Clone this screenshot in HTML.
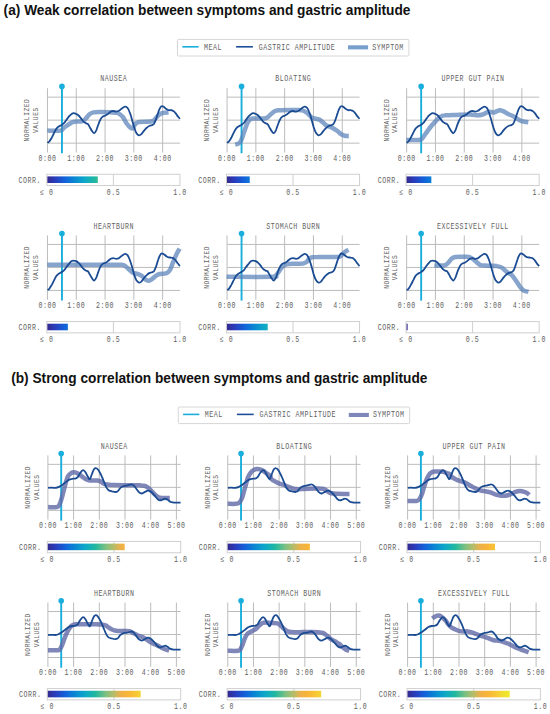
<!DOCTYPE html><html><head><meta charset="utf-8"><style>html,body{margin:0;padding:0;background:#fff;}svg{display:block;}.m{font-family:"Liberation Mono", monospace;font-size:7.5px;fill:#626262;letter-spacing:0.61px;}.yl{font-size:7.1px;}.t{font-family:"Liberation Sans", sans-serif;font-size:13.7px;font-weight:bold;fill:#111;}</style></head><body>
<svg width="550" height="714" viewBox="0 0 550 714">
<text transform="translate(3.6,15.1) scale(1,1.06)" class="t">(a) Weak correlation between symptoms and gastric amplitude</text>
<text transform="translate(11.2,382.6) scale(1,1.06)" class="t">(b) Strong correlation between symptoms and gastric amplitude</text>
<rect x="177.5" y="39.4" width="231.4" height="16.6" fill="#fff" stroke="#d6d6d6" stroke-width="1" rx="1"/>
<path d="M182.3,46.8H198.6" stroke="#19aedb" stroke-width="1.6"/>
<text transform="translate(204.00,49.70) scale(0.88,1.10)" class="m">MEAL</text>
<path d="M236.1,46.8H252.9" stroke="#1c4f97" stroke-width="1.6"/>
<text transform="translate(258.80,49.70) scale(0.88,1.10)" class="m">GASTRIC AMPLITUDE</text>
<rect x="348.0" y="45.3" width="20.1" height="4.1" fill="#78a0cc"/>
<text transform="translate(372.20,49.70) scale(0.88,1.10)" class="m">SYMPTOM</text>
<rect x="178.3" y="407.0" width="231.4" height="16.6" fill="#fff" stroke="#d6d6d6" stroke-width="1" rx="1"/>
<path d="M183.1,414.4H199.4" stroke="#19aedb" stroke-width="1.6"/>
<text transform="translate(204.80,417.30) scale(0.88,1.10)" class="m">MEAL</text>
<path d="M236.9,414.4H253.7" stroke="#1c4f97" stroke-width="1.6"/>
<text transform="translate(259.60,417.30) scale(0.88,1.10)" class="m">GASTRIC AMPLITUDE</text>
<rect x="348.8" y="412.9" width="20.1" height="4.1" fill="#7f87b8"/>
<text transform="translate(373.00,417.30) scale(0.88,1.10)" class="m">SYMPTOM</text>
<text transform="translate(113.70,81.25) scale(0.88,1.10)" text-anchor="middle" class="m">NAUSEA</text>
<text transform="translate(29.45,120.15) rotate(-90) scale(0.88,1.10)" text-anchor="middle" class="m yl">NORMALIZED</text>
<text transform="translate(38.05,120.15) rotate(-90) scale(0.88,1.10)" text-anchor="middle" class="m yl">VALUES</text>
<path d="M47.45,88.2V152.5M76.25,88.2V152.5M105.05,88.2V152.5M133.85,88.2V152.5M162.65,88.2V152.5M47.45,97.15H179.95M47.45,120.15H179.95M47.45,143.15H179.95" stroke="#bcbcbc" stroke-width="1" fill="none"/>
<text transform="translate(47.45,160.85) scale(0.88,1.10)" text-anchor="middle" class="m">0:00</text>
<text transform="translate(76.25,160.85) scale(0.88,1.10)" text-anchor="middle" class="m">1:00</text>
<text transform="translate(105.05,160.85) scale(0.88,1.10)" text-anchor="middle" class="m">2:00</text>
<text transform="translate(133.85,160.85) scale(0.88,1.10)" text-anchor="middle" class="m">3:00</text>
<text transform="translate(162.65,160.85) scale(0.88,1.10)" text-anchor="middle" class="m">4:00</text>
<path d="M61.95,86.6V153.3" stroke="#19aedb" stroke-width="1.9"/>
<circle cx="61.95" cy="86.4" r="2.8" fill="#19aedb"/>
<path d="M47.3,130.6 C49.5,130.6 57.5,131.1 60.3,130.6 C63.1,130.1 62.4,128.8 64.1,127.6 C65.8,126.4 68.8,124.2 70.5,123.2 C72.2,122.2 72.4,122.0 74.3,121.7 C76.2,121.4 80.0,121.8 81.9,121.3 C83.8,120.8 84.4,119.9 85.7,118.7 C87.0,117.5 88.2,115.3 89.5,114.3 C90.8,113.2 91.5,112.8 93.4,112.4 C95.3,112.0 98.2,112.1 101.0,112.1 C103.8,112.1 107.2,112.1 110.0,112.3 C112.8,112.5 115.5,112.2 117.6,113.0 C119.7,113.8 121.2,115.1 122.7,116.8 C124.2,118.5 125.2,121.4 126.5,123.2 C127.8,125.0 129.3,126.8 130.4,127.6 C131.5,128.4 132.1,128.9 132.9,128.3 C133.8,127.7 134.4,124.9 135.5,123.8 C136.6,122.7 136.6,122.3 139.3,121.9 C142.1,121.5 149.2,121.9 152.0,121.3 C154.8,120.7 154.3,119.4 155.8,118.1 C157.3,116.8 158.8,114.5 160.9,113.6 C163.0,112.6 167.2,112.6 168.5,112.4" stroke="#547eb8" stroke-opacity="0.70" stroke-width="4.5" fill="none" stroke-linecap="butt" stroke-linejoin="round"/>
<path d="M47.5,142.9 C47.8,142.6 48.8,142.2 49.5,141.2 C50.2,140.3 51.1,138.7 52.0,137.2 C52.8,135.7 53.7,133.7 54.4,132.2 C55.2,130.8 55.8,129.5 56.5,128.6 C57.1,127.6 57.6,127.3 58.5,126.7 C59.3,126.0 60.8,125.5 61.8,124.9 C62.7,124.2 63.4,123.7 64.2,122.9 C65.1,122.0 65.8,120.7 66.7,119.6 C67.5,118.5 68.3,117.2 69.2,116.2 C70.0,115.3 70.8,114.4 71.6,113.9 C72.3,113.4 72.9,113.2 73.7,113.2 C74.4,113.2 75.2,113.5 76.1,113.9 C76.9,114.2 77.7,114.7 78.6,115.5 C79.4,116.2 80.1,117.3 81.0,118.4 C81.8,119.4 82.6,120.7 83.5,121.6 C84.3,122.4 85.2,122.8 86.0,123.2 C86.7,123.7 87.3,123.4 88.0,124.1 C88.6,124.7 89.2,126.2 89.9,127.4 C90.6,128.5 91.2,130.0 92.0,130.9 C92.7,131.9 93.5,133.4 94.2,133.2 C95.0,133.1 95.8,131.3 96.5,129.8 C97.2,128.2 97.8,125.8 98.5,124.1 C99.1,122.3 99.9,120.4 100.6,119.2 C101.2,117.9 101.7,117.3 102.6,116.7 C103.4,116.0 104.6,115.9 105.5,115.5 C106.3,115.0 107.0,114.5 107.9,113.9 C108.8,113.2 109.9,112.0 110.8,111.6 C111.6,111.1 112.3,111.0 113.2,111.0 C114.2,111.0 115.5,111.6 116.5,111.6 C117.4,111.5 118.0,111.3 119.0,110.8 C119.9,110.2 120.8,109.1 121.9,108.5 C122.9,107.8 124.1,106.8 125.0,106.7 C126.0,106.6 126.8,107.0 127.5,107.9 C128.3,108.7 128.9,110.3 129.5,111.8 C130.1,113.2 130.6,114.9 131.2,116.7 C131.7,118.4 132.2,120.4 132.8,122.4 C133.3,124.3 133.8,126.4 134.4,128.2 C135.0,129.9 135.7,131.9 136.4,133.1 C137.2,134.2 138.1,135.2 138.9,135.4 C139.7,135.6 140.5,135.0 141.4,134.2 C142.2,133.5 143.0,132.0 143.9,130.9 C144.7,129.9 145.7,128.6 146.7,127.8 C147.6,126.9 148.7,126.1 149.6,125.7 C150.4,125.2 151.2,125.4 152.0,125.1 C152.8,124.7 153.4,124.6 154.1,123.7 C154.7,122.7 155.4,121.0 156.1,119.2 C156.7,117.3 157.5,114.5 158.2,112.6 C158.8,110.6 159.5,108.7 160.2,107.7 C160.8,106.6 161.3,106.1 161.9,106.1 C162.6,106.0 163.4,106.7 164.2,107.2 C164.9,107.7 165.6,108.6 166.4,109.1 C167.1,109.6 167.7,110.0 168.6,110.2 C169.4,110.4 170.4,110.1 171.2,110.2 C172.1,110.4 172.7,110.5 173.4,111.0 C174.2,111.4 174.9,112.2 175.6,113.2 C176.4,114.1 177.1,115.4 177.9,116.4 C178.6,117.3 179.6,118.4 179.9,118.9" stroke="#1b4c93" stroke-width="1.8" fill="none" stroke-linejoin="round"/>
<text transform="translate(41.05,182.75) scale(0.88,1.10)" text-anchor="end" class="m">CORR.</text>
<rect x="46.85" y="174.25" width="133.10" height="11.30" fill="#fff" stroke="#cfcfcf" stroke-width="1"/>
<path d="M113.40,174.25V185.55" stroke="#cfcfcf" stroke-width="1"/>
<linearGradient id="ga00" gradientUnits="userSpaceOnUse" x1="46.85" x2="179.95" y1="0" y2="0"><stop offset="0.000" stop-color="#35288c"/><stop offset="0.060" stop-color="#2a3cbc"/><stop offset="0.135" stop-color="#1262da"/><stop offset="0.210" stop-color="#0a88d2"/><stop offset="0.285" stop-color="#0ea8c8"/><stop offset="0.360" stop-color="#20b8a0"/><stop offset="0.440" stop-color="#80c080"/><stop offset="0.500" stop-color="#b8bc68"/><stop offset="0.550" stop-color="#eeb048"/><stop offset="0.600" stop-color="#f8b438"/><stop offset="0.670" stop-color="#f8c836"/><stop offset="0.725" stop-color="#f0e030"/><stop offset="0.780" stop-color="#f0ea28"/><stop offset="1.000" stop-color="#f5f520"/></linearGradient>
<rect x="47.35" y="176.40" width="50.48" height="6.60" fill="url(#ga00)"/>
<text transform="translate(46.85,194.65) scale(0.88,1.10)" text-anchor="middle" class="m">≤ 0</text>
<text transform="translate(113.40,194.65) scale(0.88,1.10)" text-anchor="middle" class="m">0.5</text>
<text transform="translate(179.95,194.65) scale(0.88,1.10)" text-anchor="middle" class="m">1.0</text>
<text transform="translate(293.30,81.25) scale(0.88,1.10)" text-anchor="middle" class="m">BLOATING</text>
<text transform="translate(209.05,120.15) rotate(-90) scale(0.88,1.10)" text-anchor="middle" class="m yl">NORMALIZED</text>
<text transform="translate(217.65,120.15) rotate(-90) scale(0.88,1.10)" text-anchor="middle" class="m yl">VALUES</text>
<path d="M227.05,88.2V152.5M255.85,88.2V152.5M284.65,88.2V152.5M313.45,88.2V152.5M342.25,88.2V152.5M227.05,97.15H359.55M227.05,120.15H359.55M227.05,143.15H359.55" stroke="#bcbcbc" stroke-width="1" fill="none"/>
<text transform="translate(227.05,160.85) scale(0.88,1.10)" text-anchor="middle" class="m">0:00</text>
<text transform="translate(255.85,160.85) scale(0.88,1.10)" text-anchor="middle" class="m">1:00</text>
<text transform="translate(284.65,160.85) scale(0.88,1.10)" text-anchor="middle" class="m">2:00</text>
<text transform="translate(313.45,160.85) scale(0.88,1.10)" text-anchor="middle" class="m">3:00</text>
<text transform="translate(342.25,160.85) scale(0.88,1.10)" text-anchor="middle" class="m">4:00</text>
<path d="M241.55,86.6V153.3" stroke="#19aedb" stroke-width="1.9"/>
<circle cx="241.55" cy="86.4" r="2.8" fill="#19aedb"/>
<path d="M235.2,144.6 C235.6,144.5 236.8,144.6 237.7,144.0 C238.6,143.4 239.8,143.0 240.9,141.0 C242.0,139.0 243.0,135.1 244.1,132.1 C245.2,129.1 246.2,125.4 247.3,123.2 C248.4,121.0 249.3,119.9 250.5,119.1 C251.7,118.3 252.2,118.6 254.3,118.5 C256.4,118.4 261.1,118.6 263.2,118.5 C265.3,118.4 265.7,118.5 267.0,117.8 C268.3,117.1 269.5,115.4 270.8,114.3 C272.1,113.2 273.3,111.9 274.6,111.2 C275.9,110.5 275.9,110.5 278.5,110.3 C281.1,110.1 286.6,110.0 290.0,110.0 C293.4,110.0 296.6,109.8 298.9,110.0 C301.2,110.2 302.5,110.4 304.0,111.0 C305.5,111.6 306.5,112.5 307.8,113.6 C309.1,114.7 310.3,116.7 311.6,117.5 C312.9,118.3 314.2,118.4 315.5,118.7 C316.8,119.0 318.0,119.0 319.3,119.6 C320.6,120.2 321.8,121.5 323.1,122.5 C324.4,123.5 325.4,124.9 326.9,125.7 C328.4,126.5 330.3,126.8 332.0,127.6 C333.7,128.4 335.6,129.7 337.1,130.8 C338.6,131.9 339.6,133.2 340.9,134.0 C342.2,134.8 343.4,135.4 344.7,135.7 C346.0,136.0 348.1,135.9 348.8,135.9" stroke="#547eb8" stroke-opacity="0.70" stroke-width="4.5" fill="none" stroke-linecap="butt" stroke-linejoin="round"/>
<path d="M227.1,142.9 C227.4,142.6 228.4,142.2 229.1,141.2 C229.9,140.3 230.7,138.7 231.6,137.2 C232.4,135.7 233.2,133.7 234.0,132.2 C234.8,130.8 235.4,129.5 236.1,128.6 C236.7,127.6 237.2,127.3 238.1,126.7 C238.9,126.0 240.4,125.5 241.4,124.9 C242.3,124.2 243.0,123.7 243.9,122.9 C244.7,122.0 245.4,120.7 246.2,119.6 C247.1,118.5 247.9,117.2 248.8,116.2 C249.6,115.3 250.4,114.4 251.2,113.9 C251.9,113.4 252.5,113.2 253.2,113.2 C254.0,113.2 254.8,113.5 255.7,113.9 C256.5,114.2 257.3,114.7 258.2,115.5 C259.0,116.2 259.7,117.3 260.6,118.4 C261.4,119.4 262.2,120.7 263.1,121.6 C263.9,122.4 264.8,122.8 265.6,123.2 C266.3,123.7 266.9,123.4 267.6,124.1 C268.2,124.7 268.8,126.2 269.5,127.4 C270.2,128.5 270.8,130.0 271.6,130.9 C272.3,131.9 273.1,133.4 273.9,133.2 C274.6,133.1 275.4,131.3 276.1,129.8 C276.8,128.2 277.4,125.8 278.1,124.1 C278.7,122.3 279.5,120.4 280.2,119.2 C280.8,117.9 281.3,117.3 282.2,116.7 C283.0,116.0 284.2,115.9 285.1,115.5 C285.9,115.0 286.6,114.5 287.5,113.9 C288.4,113.2 289.5,112.0 290.4,111.6 C291.2,111.1 291.9,111.0 292.9,111.0 C293.8,111.0 295.1,111.6 296.1,111.6 C297.0,111.5 297.6,111.3 298.6,110.8 C299.5,110.2 300.4,109.1 301.5,108.5 C302.5,107.8 303.7,106.8 304.6,106.7 C305.6,106.6 306.4,107.0 307.1,107.9 C307.9,108.7 308.5,110.3 309.1,111.8 C309.7,113.2 310.2,114.9 310.8,116.7 C311.3,118.4 311.8,120.4 312.4,122.4 C312.9,124.3 313.4,126.4 314.0,128.2 C314.6,129.9 315.3,131.9 316.1,133.1 C316.8,134.2 317.7,135.2 318.5,135.4 C319.3,135.6 320.1,135.0 321.0,134.2 C321.8,133.5 322.6,132.0 323.5,130.9 C324.3,129.9 325.3,128.6 326.2,127.8 C327.2,126.9 328.3,126.1 329.1,125.7 C330.0,125.2 330.9,125.4 331.6,125.1 C332.4,124.7 333.0,124.6 333.6,123.7 C334.3,122.7 335.0,121.0 335.6,119.2 C336.3,117.3 337.1,114.5 337.8,112.6 C338.4,110.6 339.1,108.7 339.8,107.7 C340.4,106.6 340.9,106.1 341.6,106.1 C342.2,106.0 343.0,106.7 343.8,107.2 C344.5,107.7 345.2,108.6 346.0,109.1 C346.7,109.6 347.3,110.0 348.1,110.2 C349.0,110.4 350.0,110.1 350.9,110.2 C351.7,110.4 352.3,110.5 353.1,111.0 C353.8,111.4 354.5,112.2 355.2,113.2 C356.0,114.1 356.7,115.4 357.5,116.4 C358.2,117.3 359.2,118.4 359.5,118.9" stroke="#1b4c93" stroke-width="1.8" fill="none" stroke-linejoin="round"/>
<text transform="translate(220.65,182.75) scale(0.88,1.10)" text-anchor="end" class="m">CORR.</text>
<rect x="226.45" y="174.25" width="133.10" height="11.30" fill="#fff" stroke="#cfcfcf" stroke-width="1"/>
<path d="M293.00,174.25V185.55" stroke="#cfcfcf" stroke-width="1"/>
<linearGradient id="ga01" gradientUnits="userSpaceOnUse" x1="226.45" x2="359.55" y1="0" y2="0"><stop offset="0.000" stop-color="#35288c"/><stop offset="0.060" stop-color="#2a3cbc"/><stop offset="0.135" stop-color="#1262da"/><stop offset="0.210" stop-color="#0a88d2"/><stop offset="0.285" stop-color="#0ea8c8"/><stop offset="0.360" stop-color="#20b8a0"/><stop offset="0.440" stop-color="#80c080"/><stop offset="0.500" stop-color="#b8bc68"/><stop offset="0.550" stop-color="#eeb048"/><stop offset="0.600" stop-color="#f8b438"/><stop offset="0.670" stop-color="#f8c836"/><stop offset="0.725" stop-color="#f0e030"/><stop offset="0.780" stop-color="#f0ea28"/><stop offset="1.000" stop-color="#f5f520"/></linearGradient>
<rect x="226.95" y="176.40" width="22.79" height="6.60" fill="url(#ga01)"/>
<text transform="translate(226.45,194.65) scale(0.88,1.10)" text-anchor="middle" class="m">≤ 0</text>
<text transform="translate(293.00,194.65) scale(0.88,1.10)" text-anchor="middle" class="m">0.5</text>
<text transform="translate(359.55,194.65) scale(0.88,1.10)" text-anchor="middle" class="m">1.0</text>
<text transform="translate(472.90,81.25) scale(0.88,1.10)" text-anchor="middle" class="m">UPPER GUT PAIN</text>
<text transform="translate(388.65,120.15) rotate(-90) scale(0.88,1.10)" text-anchor="middle" class="m yl">NORMALIZED</text>
<text transform="translate(397.25,120.15) rotate(-90) scale(0.88,1.10)" text-anchor="middle" class="m yl">VALUES</text>
<path d="M406.65,88.2V152.5M435.45,88.2V152.5M464.25,88.2V152.5M493.05,88.2V152.5M521.85,88.2V152.5M406.65,97.15H539.15M406.65,120.15H539.15M406.65,143.15H539.15" stroke="#bcbcbc" stroke-width="1" fill="none"/>
<text transform="translate(406.65,160.85) scale(0.88,1.10)" text-anchor="middle" class="m">0:00</text>
<text transform="translate(435.45,160.85) scale(0.88,1.10)" text-anchor="middle" class="m">1:00</text>
<text transform="translate(464.25,160.85) scale(0.88,1.10)" text-anchor="middle" class="m">2:00</text>
<text transform="translate(493.05,160.85) scale(0.88,1.10)" text-anchor="middle" class="m">3:00</text>
<text transform="translate(521.85,160.85) scale(0.88,1.10)" text-anchor="middle" class="m">4:00</text>
<path d="M421.15,86.6V153.3" stroke="#19aedb" stroke-width="1.9"/>
<circle cx="421.15" cy="86.4" r="2.8" fill="#19aedb"/>
<path d="M406.3,140.0 C408.2,140.0 415.2,140.2 417.7,140.0 C420.2,139.8 420.2,140.1 421.5,139.1 C422.8,138.1 423.9,136.0 425.4,134.0 C426.9,132.0 428.8,129.1 430.5,127.0 C432.2,124.9 433.8,123.0 435.5,121.3 C437.2,119.6 438.9,117.6 440.6,116.6 C442.3,115.6 443.1,115.6 445.7,115.3 C448.2,115.0 451.8,115.0 455.9,114.9 C459.9,114.8 466.4,114.5 470.0,114.6 C473.6,114.7 475.5,115.3 477.6,115.3 C479.7,115.3 481.2,114.9 482.7,114.5 C484.2,114.1 485.2,113.2 486.5,112.7 C487.8,112.2 489.1,111.8 490.4,111.7 C491.7,111.7 492.7,112.7 494.2,112.4 C495.7,112.2 497.8,110.4 499.3,110.2 C500.8,110.0 501.6,110.5 503.1,111.1 C504.6,111.7 506.5,113.2 508.2,114.0 C509.9,114.8 511.8,115.4 513.3,116.2 C514.8,117.0 515.8,117.9 517.1,118.7 C518.4,119.5 519.6,120.4 520.9,120.9 C522.2,121.4 523.5,121.5 524.7,121.7 C525.9,121.9 527.7,122.1 528.3,122.2" stroke="#547eb8" stroke-opacity="0.70" stroke-width="4.5" fill="none" stroke-linecap="butt" stroke-linejoin="round"/>
<path d="M406.6,142.9 C407.0,142.6 407.9,142.2 408.7,141.2 C409.4,140.3 410.3,138.7 411.1,137.2 C412.0,135.7 412.8,133.7 413.6,132.2 C414.3,130.8 415.0,129.5 415.6,128.6 C416.3,127.6 416.8,127.3 417.6,126.7 C418.5,126.0 420.0,125.5 420.9,124.9 C421.9,124.2 422.6,123.7 423.4,122.9 C424.3,122.0 425.0,120.7 425.8,119.6 C426.7,118.5 427.5,117.2 428.3,116.2 C429.2,115.3 430.0,114.4 430.8,113.9 C431.5,113.4 432.1,113.2 432.8,113.2 C433.6,113.2 434.4,113.5 435.2,113.9 C436.1,114.2 436.9,114.7 437.8,115.5 C438.6,116.2 439.3,117.3 440.1,118.4 C441.0,119.4 441.8,120.7 442.6,121.6 C443.5,122.4 444.4,122.8 445.1,123.2 C445.9,123.7 446.5,123.4 447.1,124.1 C447.8,124.7 448.4,126.2 449.1,127.4 C449.8,128.5 450.4,130.0 451.1,130.9 C451.9,131.9 452.7,133.4 453.4,133.2 C454.2,133.1 454.9,131.3 455.6,129.8 C456.3,128.2 457.0,125.8 457.6,124.1 C458.3,122.3 459.1,120.4 459.8,119.2 C460.4,117.9 460.9,117.3 461.8,116.7 C462.6,116.0 463.8,115.9 464.6,115.5 C465.5,115.0 466.2,114.5 467.1,113.9 C468.0,113.2 469.1,112.0 469.9,111.6 C470.8,111.1 471.5,111.0 472.4,111.0 C473.4,111.0 474.7,111.6 475.6,111.6 C476.6,111.5 477.2,111.3 478.1,110.8 C479.0,110.2 480.0,109.1 481.0,108.5 C482.1,107.8 483.3,106.8 484.2,106.7 C485.2,106.6 486.0,107.0 486.8,107.9 C487.5,108.7 488.1,110.3 488.7,111.8 C489.3,113.2 489.8,114.9 490.3,116.7 C490.9,118.4 491.4,120.4 491.9,122.4 C492.5,124.3 493.0,126.4 493.6,128.2 C494.2,129.9 494.9,131.9 495.6,133.1 C496.4,134.2 497.3,135.2 498.1,135.4 C498.9,135.6 499.7,135.0 500.5,134.2 C501.4,133.5 502.2,132.0 503.0,130.9 C503.9,129.9 504.9,128.6 505.8,127.8 C506.8,126.9 507.9,126.1 508.8,125.7 C509.6,125.2 510.4,125.4 511.2,125.1 C511.9,124.7 512.6,124.6 513.2,123.7 C513.9,122.7 514.6,121.0 515.2,119.2 C515.9,117.3 516.7,114.5 517.4,112.6 C518.0,110.6 518.7,108.7 519.4,107.7 C520.0,106.6 520.5,106.1 521.1,106.1 C521.8,106.0 522.6,106.7 523.4,107.2 C524.1,107.7 524.8,108.6 525.5,109.1 C526.3,109.6 526.9,110.0 527.8,110.2 C528.6,110.4 529.6,110.1 530.4,110.2 C531.3,110.4 531.9,110.5 532.6,111.0 C533.4,111.4 534.1,112.2 534.8,113.2 C535.6,114.1 536.3,115.4 537.0,116.4 C537.8,117.3 538.8,118.4 539.1,118.9" stroke="#1b4c93" stroke-width="1.8" fill="none" stroke-linejoin="round"/>
<text transform="translate(400.25,182.75) scale(0.88,1.10)" text-anchor="end" class="m">CORR.</text>
<rect x="406.05" y="174.25" width="133.10" height="11.30" fill="#fff" stroke="#cfcfcf" stroke-width="1"/>
<path d="M472.60,174.25V185.55" stroke="#cfcfcf" stroke-width="1"/>
<linearGradient id="ga02" gradientUnits="userSpaceOnUse" x1="406.05" x2="539.15" y1="0" y2="0"><stop offset="0.000" stop-color="#35288c"/><stop offset="0.060" stop-color="#2a3cbc"/><stop offset="0.135" stop-color="#1262da"/><stop offset="0.210" stop-color="#0a88d2"/><stop offset="0.285" stop-color="#0ea8c8"/><stop offset="0.360" stop-color="#20b8a0"/><stop offset="0.440" stop-color="#80c080"/><stop offset="0.500" stop-color="#b8bc68"/><stop offset="0.550" stop-color="#eeb048"/><stop offset="0.600" stop-color="#f8b438"/><stop offset="0.670" stop-color="#f8c836"/><stop offset="0.725" stop-color="#f0e030"/><stop offset="0.780" stop-color="#f0ea28"/><stop offset="1.000" stop-color="#f5f520"/></linearGradient>
<rect x="406.55" y="176.40" width="24.79" height="6.60" fill="url(#ga02)"/>
<text transform="translate(406.05,194.65) scale(0.88,1.10)" text-anchor="middle" class="m">≤ 0</text>
<text transform="translate(472.60,194.65) scale(0.88,1.10)" text-anchor="middle" class="m">0.5</text>
<text transform="translate(539.15,194.65) scale(0.88,1.10)" text-anchor="middle" class="m">1.0</text>
<text transform="translate(113.70,228.55) scale(0.88,1.10)" text-anchor="middle" class="m">HEARTBURN</text>
<text transform="translate(29.45,267.45) rotate(-90) scale(0.88,1.10)" text-anchor="middle" class="m yl">NORMALIZED</text>
<text transform="translate(38.05,267.45) rotate(-90) scale(0.88,1.10)" text-anchor="middle" class="m yl">VALUES</text>
<path d="M47.45,235.4V299.8M76.25,235.4V299.8M105.05,235.4V299.8M133.85,235.4V299.8M162.65,235.4V299.8M47.45,244.45H179.95M47.45,267.45H179.95M47.45,290.45H179.95" stroke="#bcbcbc" stroke-width="1" fill="none"/>
<text transform="translate(47.45,308.15) scale(0.88,1.10)" text-anchor="middle" class="m">0:00</text>
<text transform="translate(76.25,308.15) scale(0.88,1.10)" text-anchor="middle" class="m">1:00</text>
<text transform="translate(105.05,308.15) scale(0.88,1.10)" text-anchor="middle" class="m">2:00</text>
<text transform="translate(133.85,308.15) scale(0.88,1.10)" text-anchor="middle" class="m">3:00</text>
<text transform="translate(162.65,308.15) scale(0.88,1.10)" text-anchor="middle" class="m">4:00</text>
<path d="M61.95,233.8V300.6" stroke="#19aedb" stroke-width="1.9"/>
<circle cx="61.95" cy="233.6" r="2.8" fill="#19aedb"/>
<path d="M47.3,264.8 C57.8,264.8 97.6,264.8 110.0,264.8 C122.4,264.8 119.0,264.6 121.5,264.8 C124.0,265.0 124.0,265.3 125.3,266.1 C126.6,266.9 127.8,268.4 129.1,269.5 C130.4,270.6 131.5,271.9 132.9,272.7 C134.3,273.4 135.9,273.5 137.4,274.0 C138.9,274.5 140.4,274.9 141.8,275.9 C143.2,276.8 144.4,278.9 145.6,279.7 C146.8,280.5 147.7,280.8 148.8,280.7 C149.9,280.6 150.8,279.9 152.0,279.1 C153.2,278.3 154.5,276.8 155.8,275.9 C157.1,275.0 157.9,274.4 159.6,274.0 C161.3,273.6 164.3,274.0 166.0,273.4 C167.7,272.8 168.6,272.0 169.8,270.2 C171.0,268.4 171.9,265.1 173.0,262.5 C174.1,259.9 175.1,257.2 176.2,254.9 C177.3,252.6 179.0,249.7 179.6,248.6" stroke="#547eb8" stroke-opacity="0.70" stroke-width="4.5" fill="none" stroke-linecap="butt" stroke-linejoin="round"/>
<path d="M47.5,290.1 C47.8,289.9 48.8,289.5 49.5,288.6 C50.2,287.6 51.1,285.9 52.0,284.4 C52.8,282.9 53.7,281.0 54.4,279.6 C55.2,278.1 55.8,276.8 56.5,275.8 C57.1,274.9 57.6,274.6 58.5,273.9 C59.3,273.3 60.8,272.8 61.8,272.1 C62.7,271.5 63.4,271.0 64.2,270.1 C65.1,269.3 65.8,267.9 66.7,266.8 C67.5,265.8 68.3,264.5 69.2,263.6 C70.0,262.6 70.8,261.6 71.6,261.1 C72.3,260.6 72.9,260.6 73.7,260.6 C74.4,260.6 75.2,260.8 76.1,261.1 C76.9,261.5 77.7,262.0 78.6,262.8 C79.4,263.5 80.1,264.6 81.0,265.6 C81.8,266.7 82.6,268.0 83.5,268.8 C84.3,269.7 85.2,270.1 86.0,270.6 C86.7,271.0 87.3,270.7 88.0,271.3 C88.6,272.0 89.2,273.5 89.9,274.6 C90.6,275.8 91.2,277.3 92.0,278.2 C92.7,279.2 93.5,280.8 94.2,280.6 C95.0,280.4 95.8,278.6 96.5,277.1 C97.2,275.5 97.8,273.1 98.5,271.3 C99.1,269.6 99.9,267.7 100.6,266.4 C101.2,265.2 101.7,264.6 102.6,263.9 C103.4,263.3 104.6,263.2 105.5,262.8 C106.3,262.3 107.0,261.8 107.9,261.1 C108.8,260.5 109.9,259.3 110.8,258.8 C111.6,258.4 112.3,258.2 113.2,258.2 C114.2,258.2 115.5,258.9 116.5,258.8 C117.4,258.8 118.0,258.6 119.0,258.1 C119.9,257.5 120.8,256.4 121.9,255.8 C122.9,255.1 124.1,254.0 125.0,253.9 C126.0,253.8 126.8,254.3 127.5,255.1 C128.3,256.0 128.9,257.6 129.5,259.1 C130.1,260.5 130.6,262.2 131.2,263.9 C131.7,265.7 132.2,267.7 132.8,269.6 C133.3,271.6 133.8,273.7 134.4,275.4 C135.0,277.2 135.7,279.1 136.4,280.3 C137.2,281.5 138.1,282.4 138.9,282.6 C139.7,282.8 140.5,282.3 141.4,281.6 C142.2,280.8 143.0,279.3 143.9,278.2 C144.7,277.2 145.7,275.9 146.7,275.1 C147.6,274.2 148.7,273.4 149.6,272.9 C150.4,272.5 151.2,272.7 152.0,272.3 C152.8,272.0 153.4,271.9 154.1,270.9 C154.7,270.0 155.4,268.3 156.1,266.4 C156.7,264.6 157.5,261.8 158.2,259.8 C158.8,257.9 159.5,256.0 160.2,254.9 C160.8,253.9 161.3,253.4 161.9,253.3 C162.6,253.3 163.4,253.9 164.2,254.4 C164.9,254.9 165.6,255.8 166.4,256.3 C167.1,256.8 167.7,257.2 168.6,257.4 C169.4,257.6 170.4,257.4 171.2,257.6 C172.1,257.7 172.7,257.8 173.4,258.2 C174.2,258.7 174.9,259.6 175.6,260.4 C176.4,261.3 177.1,262.7 177.9,263.6 C178.6,264.6 179.6,265.7 179.9,266.1" stroke="#1b4c93" stroke-width="1.8" fill="none" stroke-linejoin="round"/>
<text transform="translate(41.05,330.05) scale(0.88,1.10)" text-anchor="end" class="m">CORR.</text>
<rect x="46.85" y="321.55" width="133.10" height="11.30" fill="#fff" stroke="#cfcfcf" stroke-width="1"/>
<path d="M113.40,321.55V332.85" stroke="#cfcfcf" stroke-width="1"/>
<linearGradient id="ga10" gradientUnits="userSpaceOnUse" x1="46.85" x2="179.95" y1="0" y2="0"><stop offset="0.000" stop-color="#35288c"/><stop offset="0.060" stop-color="#2a3cbc"/><stop offset="0.135" stop-color="#1262da"/><stop offset="0.210" stop-color="#0a88d2"/><stop offset="0.285" stop-color="#0ea8c8"/><stop offset="0.360" stop-color="#20b8a0"/><stop offset="0.440" stop-color="#80c080"/><stop offset="0.500" stop-color="#b8bc68"/><stop offset="0.550" stop-color="#eeb048"/><stop offset="0.600" stop-color="#f8b438"/><stop offset="0.670" stop-color="#f8c836"/><stop offset="0.725" stop-color="#f0e030"/><stop offset="0.780" stop-color="#f0ea28"/><stop offset="1.000" stop-color="#f5f520"/></linearGradient>
<rect x="47.35" y="323.70" width="20.53" height="6.60" fill="url(#ga10)"/>
<text transform="translate(46.85,341.95) scale(0.88,1.10)" text-anchor="middle" class="m">≤ 0</text>
<text transform="translate(113.40,341.95) scale(0.88,1.10)" text-anchor="middle" class="m">0.5</text>
<text transform="translate(179.95,341.95) scale(0.88,1.10)" text-anchor="middle" class="m">1.0</text>
<text transform="translate(293.30,228.55) scale(0.88,1.10)" text-anchor="middle" class="m">STOMACH BURN</text>
<text transform="translate(209.05,267.45) rotate(-90) scale(0.88,1.10)" text-anchor="middle" class="m yl">NORMALIZED</text>
<text transform="translate(217.65,267.45) rotate(-90) scale(0.88,1.10)" text-anchor="middle" class="m yl">VALUES</text>
<path d="M227.05,235.4V299.8M255.85,235.4V299.8M284.65,235.4V299.8M313.45,235.4V299.8M342.25,235.4V299.8M227.05,244.45H359.55M227.05,267.45H359.55M227.05,290.45H359.55" stroke="#bcbcbc" stroke-width="1" fill="none"/>
<text transform="translate(227.05,308.15) scale(0.88,1.10)" text-anchor="middle" class="m">0:00</text>
<text transform="translate(255.85,308.15) scale(0.88,1.10)" text-anchor="middle" class="m">1:00</text>
<text transform="translate(284.65,308.15) scale(0.88,1.10)" text-anchor="middle" class="m">2:00</text>
<text transform="translate(313.45,308.15) scale(0.88,1.10)" text-anchor="middle" class="m">3:00</text>
<text transform="translate(342.25,308.15) scale(0.88,1.10)" text-anchor="middle" class="m">4:00</text>
<path d="M241.55,233.8V300.6" stroke="#19aedb" stroke-width="1.9"/>
<circle cx="241.55" cy="233.6" r="2.8" fill="#19aedb"/>
<path d="M226.5,276.8 C234.1,276.8 264.0,277.0 272.1,276.8 C280.2,276.6 274.2,276.7 275.3,275.9 C276.4,275.1 277.4,273.5 278.5,272.1 C279.6,270.7 280.6,268.8 281.6,267.6 C282.7,266.4 283.6,265.6 284.8,265.0 C286.0,264.4 286.9,264.1 288.6,263.9 C290.3,263.7 292.6,263.8 295.0,263.7 C297.4,263.6 300.8,263.9 302.7,263.6 C304.6,263.3 305.4,262.8 306.5,262.0 C307.6,261.2 308.1,259.5 309.1,258.7 C310.1,257.9 310.8,257.5 312.3,257.2 C313.8,256.9 313.6,256.9 318.0,256.9 C322.4,256.8 334.4,257.3 338.4,256.9 C342.4,256.5 340.9,255.3 342.2,254.3 C343.5,253.3 344.9,251.8 346.0,251.1 C347.1,250.3 348.1,250.0 348.5,249.8" stroke="#547eb8" stroke-opacity="0.70" stroke-width="4.5" fill="none" stroke-linecap="butt" stroke-linejoin="round"/>
<path d="M227.1,290.1 C227.4,289.9 228.4,289.5 229.1,288.6 C229.9,287.6 230.7,285.9 231.6,284.4 C232.4,282.9 233.2,281.0 234.0,279.6 C234.8,278.1 235.4,276.8 236.1,275.8 C236.7,274.9 237.2,274.6 238.1,273.9 C238.9,273.3 240.4,272.8 241.4,272.1 C242.3,271.5 243.0,271.0 243.9,270.1 C244.7,269.3 245.4,267.9 246.2,266.8 C247.1,265.8 247.9,264.5 248.8,263.6 C249.6,262.6 250.4,261.6 251.2,261.1 C251.9,260.6 252.5,260.6 253.2,260.6 C254.0,260.6 254.8,260.8 255.7,261.1 C256.5,261.5 257.3,262.0 258.2,262.8 C259.0,263.5 259.7,264.6 260.6,265.6 C261.4,266.7 262.2,268.0 263.1,268.8 C263.9,269.7 264.8,270.1 265.6,270.6 C266.3,271.0 266.9,270.7 267.6,271.3 C268.2,272.0 268.8,273.5 269.5,274.6 C270.2,275.8 270.8,277.3 271.6,278.2 C272.3,279.2 273.1,280.8 273.9,280.6 C274.6,280.4 275.4,278.6 276.1,277.1 C276.8,275.5 277.4,273.1 278.1,271.3 C278.7,269.6 279.5,267.7 280.2,266.4 C280.8,265.2 281.3,264.6 282.2,263.9 C283.0,263.3 284.2,263.2 285.1,262.8 C285.9,262.3 286.6,261.8 287.5,261.1 C288.4,260.5 289.5,259.3 290.4,258.8 C291.2,258.4 291.9,258.2 292.9,258.2 C293.8,258.2 295.1,258.9 296.1,258.8 C297.0,258.8 297.6,258.6 298.6,258.1 C299.5,257.5 300.4,256.4 301.5,255.8 C302.5,255.1 303.7,254.0 304.6,253.9 C305.6,253.8 306.4,254.3 307.1,255.1 C307.9,256.0 308.5,257.6 309.1,259.1 C309.7,260.5 310.2,262.2 310.8,263.9 C311.3,265.7 311.8,267.7 312.4,269.6 C312.9,271.6 313.4,273.7 314.0,275.4 C314.6,277.2 315.3,279.1 316.1,280.3 C316.8,281.5 317.7,282.4 318.5,282.6 C319.3,282.8 320.1,282.3 321.0,281.6 C321.8,280.8 322.6,279.3 323.5,278.2 C324.3,277.2 325.3,275.9 326.2,275.1 C327.2,274.2 328.3,273.4 329.1,272.9 C330.0,272.5 330.9,272.7 331.6,272.3 C332.4,272.0 333.0,271.9 333.6,270.9 C334.3,270.0 335.0,268.3 335.6,266.4 C336.3,264.6 337.1,261.8 337.8,259.8 C338.4,257.9 339.1,256.0 339.8,254.9 C340.4,253.9 340.9,253.4 341.6,253.3 C342.2,253.3 343.0,253.9 343.8,254.4 C344.5,254.9 345.2,255.8 346.0,256.3 C346.7,256.8 347.3,257.2 348.1,257.4 C349.0,257.6 350.0,257.4 350.9,257.6 C351.7,257.7 352.3,257.8 353.1,258.2 C353.8,258.7 354.5,259.6 355.2,260.4 C356.0,261.3 356.7,262.7 357.5,263.6 C358.2,264.6 359.2,265.7 359.5,266.1" stroke="#1b4c93" stroke-width="1.8" fill="none" stroke-linejoin="round"/>
<text transform="translate(220.65,330.05) scale(0.88,1.10)" text-anchor="end" class="m">CORR.</text>
<rect x="226.45" y="321.55" width="133.10" height="11.30" fill="#fff" stroke="#cfcfcf" stroke-width="1"/>
<path d="M293.00,321.55V332.85" stroke="#cfcfcf" stroke-width="1"/>
<linearGradient id="ga11" gradientUnits="userSpaceOnUse" x1="226.45" x2="359.55" y1="0" y2="0"><stop offset="0.000" stop-color="#35288c"/><stop offset="0.060" stop-color="#2a3cbc"/><stop offset="0.135" stop-color="#1262da"/><stop offset="0.210" stop-color="#0a88d2"/><stop offset="0.285" stop-color="#0ea8c8"/><stop offset="0.360" stop-color="#20b8a0"/><stop offset="0.440" stop-color="#80c080"/><stop offset="0.500" stop-color="#b8bc68"/><stop offset="0.550" stop-color="#eeb048"/><stop offset="0.600" stop-color="#f8b438"/><stop offset="0.670" stop-color="#f8c836"/><stop offset="0.725" stop-color="#f0e030"/><stop offset="0.780" stop-color="#f0ea28"/><stop offset="1.000" stop-color="#f5f520"/></linearGradient>
<rect x="226.95" y="323.70" width="40.76" height="6.60" fill="url(#ga11)"/>
<text transform="translate(226.45,341.95) scale(0.88,1.10)" text-anchor="middle" class="m">≤ 0</text>
<text transform="translate(293.00,341.95) scale(0.88,1.10)" text-anchor="middle" class="m">0.5</text>
<text transform="translate(359.55,341.95) scale(0.88,1.10)" text-anchor="middle" class="m">1.0</text>
<text transform="translate(472.90,228.55) scale(0.88,1.10)" text-anchor="middle" class="m">EXCESSIVELY FULL</text>
<text transform="translate(388.65,267.45) rotate(-90) scale(0.88,1.10)" text-anchor="middle" class="m yl">NORMALIZED</text>
<text transform="translate(397.25,267.45) rotate(-90) scale(0.88,1.10)" text-anchor="middle" class="m yl">VALUES</text>
<path d="M406.65,235.4V299.8M435.45,235.4V299.8M464.25,235.4V299.8M493.05,235.4V299.8M521.85,235.4V299.8M406.65,244.45H539.15M406.65,267.45H539.15M406.65,290.45H539.15" stroke="#bcbcbc" stroke-width="1" fill="none"/>
<text transform="translate(406.65,308.15) scale(0.88,1.10)" text-anchor="middle" class="m">0:00</text>
<text transform="translate(435.45,308.15) scale(0.88,1.10)" text-anchor="middle" class="m">1:00</text>
<text transform="translate(464.25,308.15) scale(0.88,1.10)" text-anchor="middle" class="m">2:00</text>
<text transform="translate(493.05,308.15) scale(0.88,1.10)" text-anchor="middle" class="m">3:00</text>
<text transform="translate(521.85,308.15) scale(0.88,1.10)" text-anchor="middle" class="m">4:00</text>
<path d="M421.15,233.8V300.6" stroke="#19aedb" stroke-width="1.9"/>
<circle cx="421.15" cy="233.6" r="2.8" fill="#19aedb"/>
<path d="M434.4,265.5 C435.3,265.5 438.2,265.4 440.0,265.4 C441.8,265.3 443.9,265.7 445.3,265.2 C446.7,264.7 447.4,263.6 448.5,262.5 C449.6,261.4 450.7,259.5 451.8,258.6 C452.9,257.7 453.6,257.3 455.1,257.0 C456.6,256.7 459.0,256.7 461.0,256.7 C463.0,256.7 465.4,256.6 467.1,256.8 C468.9,257.0 470.1,257.3 471.5,258.1 C472.9,258.9 474.4,260.2 475.8,261.4 C477.2,262.5 478.7,264.3 480.2,265.0 C481.7,265.7 483.4,265.5 485.0,265.6 C486.6,265.7 488.1,265.7 490.0,265.8 C491.9,265.9 494.7,265.8 496.7,266.1 C498.7,266.4 500.1,266.6 501.8,267.6 C503.5,268.6 505.2,270.8 506.9,272.1 C508.6,273.4 510.5,273.9 512.0,275.3 C513.5,276.7 514.5,278.6 515.8,280.4 C517.1,282.2 518.3,284.4 519.6,286.1 C520.9,287.8 522.0,289.6 523.5,290.5 C525.0,291.4 527.7,291.6 528.5,291.8" stroke="#547eb8" stroke-opacity="0.70" stroke-width="4.5" fill="none" stroke-linecap="butt" stroke-linejoin="round"/>
<path d="M406.6,290.1 C407.0,289.9 407.9,289.5 408.7,288.6 C409.4,287.6 410.3,285.9 411.1,284.4 C412.0,282.9 412.8,281.0 413.6,279.6 C414.3,278.1 415.0,276.8 415.6,275.8 C416.3,274.9 416.8,274.6 417.6,273.9 C418.5,273.3 420.0,272.8 420.9,272.1 C421.9,271.5 422.6,271.0 423.4,270.1 C424.3,269.3 425.0,267.9 425.8,266.8 C426.7,265.8 427.5,264.5 428.3,263.6 C429.2,262.6 430.0,261.6 430.8,261.1 C431.5,260.6 432.1,260.6 432.8,260.6 C433.6,260.6 434.4,260.8 435.2,261.1 C436.1,261.5 436.9,262.0 437.8,262.8 C438.6,263.5 439.3,264.6 440.1,265.6 C441.0,266.7 441.8,268.0 442.6,268.8 C443.5,269.7 444.4,270.1 445.1,270.6 C445.9,271.0 446.5,270.7 447.1,271.3 C447.8,272.0 448.4,273.5 449.1,274.6 C449.8,275.8 450.4,277.3 451.1,278.2 C451.9,279.2 452.7,280.8 453.4,280.6 C454.2,280.4 454.9,278.6 455.6,277.1 C456.3,275.5 457.0,273.1 457.6,271.3 C458.3,269.6 459.1,267.7 459.8,266.4 C460.4,265.2 460.9,264.6 461.8,263.9 C462.6,263.3 463.8,263.2 464.6,262.8 C465.5,262.3 466.2,261.8 467.1,261.1 C468.0,260.5 469.1,259.3 469.9,258.8 C470.8,258.4 471.5,258.2 472.4,258.2 C473.4,258.2 474.7,258.9 475.6,258.8 C476.6,258.8 477.2,258.6 478.1,258.1 C479.0,257.5 480.0,256.4 481.0,255.8 C482.1,255.1 483.3,254.0 484.2,253.9 C485.2,253.8 486.0,254.3 486.8,255.1 C487.5,256.0 488.1,257.6 488.7,259.1 C489.3,260.5 489.8,262.2 490.3,263.9 C490.9,265.7 491.4,267.7 491.9,269.6 C492.5,271.6 493.0,273.7 493.6,275.4 C494.2,277.2 494.9,279.1 495.6,280.3 C496.4,281.5 497.3,282.4 498.1,282.6 C498.9,282.8 499.7,282.3 500.5,281.6 C501.4,280.8 502.2,279.3 503.0,278.2 C503.9,277.2 504.9,275.9 505.8,275.1 C506.8,274.2 507.9,273.4 508.8,272.9 C509.6,272.5 510.4,272.7 511.2,272.3 C511.9,272.0 512.6,271.9 513.2,270.9 C513.9,270.0 514.6,268.3 515.2,266.4 C515.9,264.6 516.7,261.8 517.4,259.8 C518.0,257.9 518.7,256.0 519.4,254.9 C520.0,253.9 520.5,253.4 521.1,253.3 C521.8,253.3 522.6,253.9 523.4,254.4 C524.1,254.9 524.8,255.8 525.5,256.3 C526.3,256.8 526.9,257.2 527.8,257.4 C528.6,257.6 529.6,257.4 530.4,257.6 C531.3,257.7 531.9,257.8 532.6,258.2 C533.4,258.7 534.1,259.6 534.8,260.4 C535.6,261.3 536.3,262.7 537.0,263.6 C537.8,264.6 538.8,265.7 539.1,266.1" stroke="#1b4c93" stroke-width="1.8" fill="none" stroke-linejoin="round"/>
<text transform="translate(400.25,330.05) scale(0.88,1.10)" text-anchor="end" class="m">CORR.</text>
<rect x="406.05" y="321.55" width="133.10" height="11.30" fill="#fff" stroke="#cfcfcf" stroke-width="1"/>
<path d="M472.60,321.55V332.85" stroke="#cfcfcf" stroke-width="1"/>
<linearGradient id="ga12" gradientUnits="userSpaceOnUse" x1="406.05" x2="539.15" y1="0" y2="0"><stop offset="0.000" stop-color="#35288c"/><stop offset="0.060" stop-color="#2a3cbc"/><stop offset="0.135" stop-color="#1262da"/><stop offset="0.210" stop-color="#0a88d2"/><stop offset="0.285" stop-color="#0ea8c8"/><stop offset="0.360" stop-color="#20b8a0"/><stop offset="0.440" stop-color="#80c080"/><stop offset="0.500" stop-color="#b8bc68"/><stop offset="0.550" stop-color="#eeb048"/><stop offset="0.600" stop-color="#f8b438"/><stop offset="0.670" stop-color="#f8c836"/><stop offset="0.725" stop-color="#f0e030"/><stop offset="0.780" stop-color="#f0ea28"/><stop offset="1.000" stop-color="#f5f520"/></linearGradient>
<rect x="406.55" y="323.70" width="1.10" height="6.60" fill="url(#ga12)"/>
<text transform="translate(406.05,341.95) scale(0.88,1.10)" text-anchor="middle" class="m">≤ 0</text>
<text transform="translate(472.60,341.95) scale(0.88,1.10)" text-anchor="middle" class="m">0.5</text>
<text transform="translate(539.15,341.95) scale(0.88,1.10)" text-anchor="middle" class="m">1.0</text>
<text transform="translate(114.30,449.15) scale(0.88,1.10)" text-anchor="middle" class="m">NAUSEA</text>
<text transform="translate(29.90,487.35) rotate(-90) scale(0.88,1.10)" text-anchor="middle" class="m yl">NORMALIZED</text>
<text transform="translate(38.50,487.35) rotate(-90) scale(0.88,1.10)" text-anchor="middle" class="m yl">VALUES</text>
<path d="M47.90,455.4V519.6M73.60,455.4V519.6M99.30,455.4V519.6M125.00,455.4V519.6M150.70,455.4V519.6M176.40,455.4V519.6M47.90,464.35H180.70M47.90,487.35H180.70M47.90,510.35H180.70" stroke="#bcbcbc" stroke-width="1" fill="none"/>
<text transform="translate(47.90,528.05) scale(0.88,1.10)" text-anchor="middle" class="m">0:00</text>
<text transform="translate(73.60,528.05) scale(0.88,1.10)" text-anchor="middle" class="m">1:00</text>
<text transform="translate(99.30,528.05) scale(0.88,1.10)" text-anchor="middle" class="m">2:00</text>
<text transform="translate(125.00,528.05) scale(0.88,1.10)" text-anchor="middle" class="m">3:00</text>
<text transform="translate(150.70,528.05) scale(0.88,1.10)" text-anchor="middle" class="m">4:00</text>
<text transform="translate(176.40,528.05) scale(0.88,1.10)" text-anchor="middle" class="m">5:00</text>
<path d="M61.20,453.8V520.6" stroke="#19aedb" stroke-width="1.9"/>
<circle cx="61.20" cy="453.6" r="2.8" fill="#19aedb"/>
<path d="M48.1,507.1 C49.5,507.1 54.6,507.5 56.5,507.1 C58.4,506.8 58.5,506.3 59.3,505.0 C60.1,503.7 60.7,501.5 61.4,499.3 C62.1,497.1 62.7,494.5 63.4,491.9 C64.1,489.3 64.8,486.3 65.5,483.7 C66.2,481.1 67.0,478.2 67.9,476.4 C68.9,474.6 70.2,473.8 71.2,473.1 C72.2,472.4 73.0,472.2 74.1,472.3 C75.2,472.4 76.4,472.8 77.7,473.5 C79.0,474.2 80.4,475.4 81.8,476.4 C83.2,477.3 84.5,478.5 85.9,479.2 C87.3,479.9 88.1,480.3 90.0,480.5 C91.9,480.7 95.5,480.4 97.3,480.5 C99.0,480.6 99.4,480.9 100.5,481.4 C101.6,481.9 102.7,483.2 103.8,483.7 C104.9,484.2 105.5,484.3 107.1,484.5 C108.7,484.7 111.1,485.0 113.6,485.1 C116.0,485.2 119.1,485.2 121.8,485.2 C124.5,485.2 127.5,485.3 130.0,485.3 C132.5,485.3 135.1,485.3 137.0,485.3 C138.9,485.3 140.0,485.2 141.4,485.4 C142.8,485.5 144.3,485.7 145.5,486.2 C146.7,486.7 147.6,487.3 148.7,488.2 C149.8,489.1 150.9,490.4 152.0,491.5 C153.1,492.6 154.2,493.9 155.3,494.9 C156.4,495.9 157.5,496.8 158.6,497.3 C159.7,497.8 159.9,497.8 161.8,497.9 C163.7,498.0 168.5,497.9 169.8,497.9" stroke="#5f68a6" stroke-opacity="0.80" stroke-width="4.5" fill="none" stroke-linecap="butt" stroke-linejoin="round"/>
<path d="M48.1,487.9 C48.7,487.8 50.2,487.7 51.5,487.7 C52.8,487.7 54.4,488.0 55.6,487.9 C56.8,487.7 57.8,487.4 58.9,486.9 C60.0,486.4 61.1,485.6 62.2,484.9 C63.3,484.1 64.4,483.2 65.5,482.4 C66.6,481.5 67.6,480.4 68.7,479.9 C69.8,479.3 70.9,479.1 72.0,478.9 C73.1,478.6 74.3,478.8 75.3,478.6 C76.2,478.3 76.9,478.1 77.7,477.2 C78.5,476.2 79.3,474.1 80.2,473.0 C81.1,471.8 82.2,470.2 83.1,470.1 C84.0,469.9 84.8,471.1 85.5,472.2 C86.2,473.2 86.9,475.1 87.6,476.2 C88.3,477.4 89.2,479.5 89.9,479.1 C90.6,478.6 91.3,475.4 92.0,473.8 C92.7,472.1 93.3,470.2 94.0,469.2 C94.7,468.3 95.3,468.0 96.0,468.1 C96.7,468.1 97.4,468.8 98.1,469.7 C98.8,470.5 99.4,471.7 100.1,473.0 C100.8,474.3 101.5,475.9 102.2,477.5 C102.9,479.0 103.5,480.7 104.2,482.4 C104.9,484.0 105.5,485.9 106.3,487.2 C107.0,488.6 107.7,489.6 108.7,490.2 C109.6,490.9 110.9,491.1 112.0,491.4 C113.1,491.6 114.4,492.0 115.3,492.0 C116.3,491.9 116.9,491.8 117.7,491.2 C118.5,490.5 119.4,488.8 120.2,488.1 C121.0,487.3 121.6,486.9 122.6,486.5 C123.5,486.1 125.0,485.9 125.9,485.7 C126.9,485.5 127.4,485.5 128.3,485.2 C129.2,485.0 130.6,484.3 131.5,484.4 C132.4,484.4 133.2,484.9 134.0,485.7 C134.8,486.4 135.7,487.9 136.5,489.0 C137.3,490.0 138.0,491.4 138.9,492.2 C139.8,492.9 140.9,493.5 141.8,493.5 C142.8,493.5 143.6,492.6 144.6,492.2 C145.6,491.7 146.9,490.7 147.9,490.6 C148.9,490.4 149.6,490.9 150.4,491.4 C151.2,491.8 152.0,492.6 152.8,493.5 C153.6,494.3 154.5,495.3 155.3,496.2 C156.1,497.2 156.9,498.5 157.7,499.2 C158.5,499.8 159.4,500.3 160.2,500.4 C161.0,500.4 161.9,499.8 162.7,499.5 C163.5,499.2 164.4,498.5 165.2,498.6 C166.0,498.6 166.8,499.2 167.7,499.8 C168.6,500.3 169.4,501.3 170.4,501.8 C171.4,502.2 172.5,502.3 173.6,502.5 C174.7,502.6 175.5,502.5 176.7,502.6 C177.9,502.6 179.9,502.6 180.6,502.6" stroke="#1b4c93" stroke-width="1.8" fill="none" stroke-linejoin="round"/>
<text transform="translate(41.50,549.95) scale(0.88,1.10)" text-anchor="end" class="m">CORR.</text>
<rect x="47.30" y="541.45" width="133.40" height="11.30" fill="#fff" stroke="#cfcfcf" stroke-width="1"/>
<path d="M114.00,541.45V552.75" stroke="#cfcfcf" stroke-width="1"/>
<linearGradient id="gb00" gradientUnits="userSpaceOnUse" x1="47.30" x2="180.70" y1="0" y2="0"><stop offset="0.000" stop-color="#35288c"/><stop offset="0.060" stop-color="#2a3cbc"/><stop offset="0.135" stop-color="#1262da"/><stop offset="0.210" stop-color="#0a88d2"/><stop offset="0.285" stop-color="#0ea8c8"/><stop offset="0.360" stop-color="#20b8a0"/><stop offset="0.440" stop-color="#80c080"/><stop offset="0.500" stop-color="#b8bc68"/><stop offset="0.550" stop-color="#eeb048"/><stop offset="0.600" stop-color="#f8b438"/><stop offset="0.670" stop-color="#f8c836"/><stop offset="0.725" stop-color="#f0e030"/><stop offset="0.780" stop-color="#f0ea28"/><stop offset="1.000" stop-color="#f5f520"/></linearGradient>
<rect x="47.80" y="543.60" width="76.87" height="6.60" fill="url(#gb00)"/>
<text transform="translate(47.30,561.85) scale(0.88,1.10)" text-anchor="middle" class="m">≤ 0</text>
<text transform="translate(114.00,561.85) scale(0.88,1.10)" text-anchor="middle" class="m">0.5</text>
<text transform="translate(180.70,561.85) scale(0.88,1.10)" text-anchor="middle" class="m">1.0</text>
<text transform="translate(294.15,449.15) scale(0.88,1.10)" text-anchor="middle" class="m">BLOATING</text>
<text transform="translate(209.75,487.35) rotate(-90) scale(0.88,1.10)" text-anchor="middle" class="m yl">NORMALIZED</text>
<text transform="translate(218.35,487.35) rotate(-90) scale(0.88,1.10)" text-anchor="middle" class="m yl">VALUES</text>
<path d="M227.75,455.4V519.6M253.45,455.4V519.6M279.15,455.4V519.6M304.85,455.4V519.6M330.55,455.4V519.6M356.25,455.4V519.6M227.75,464.35H360.55M227.75,487.35H360.55M227.75,510.35H360.55" stroke="#bcbcbc" stroke-width="1" fill="none"/>
<text transform="translate(227.75,528.05) scale(0.88,1.10)" text-anchor="middle" class="m">0:00</text>
<text transform="translate(253.45,528.05) scale(0.88,1.10)" text-anchor="middle" class="m">1:00</text>
<text transform="translate(279.15,528.05) scale(0.88,1.10)" text-anchor="middle" class="m">2:00</text>
<text transform="translate(304.85,528.05) scale(0.88,1.10)" text-anchor="middle" class="m">3:00</text>
<text transform="translate(330.55,528.05) scale(0.88,1.10)" text-anchor="middle" class="m">4:00</text>
<text transform="translate(356.25,528.05) scale(0.88,1.10)" text-anchor="middle" class="m">5:00</text>
<path d="M241.05,453.8V520.6" stroke="#19aedb" stroke-width="1.9"/>
<circle cx="241.05" cy="453.6" r="2.8" fill="#19aedb"/>
<path d="M227.6,503.8 C228.9,503.8 233.6,504.0 235.6,503.8 C237.6,503.6 238.3,503.5 239.3,502.6 C240.3,501.7 241.1,500.3 241.8,498.5 C242.6,496.7 243.1,494.2 243.8,491.9 C244.5,489.6 245.2,486.9 245.9,484.5 C246.6,482.1 247.2,479.5 247.9,477.6 C248.7,475.7 249.5,474.3 250.4,473.1 C251.3,471.9 252.5,470.9 253.6,470.2 C254.7,469.5 255.8,469.1 256.9,469.0 C258.0,468.9 259.1,469.1 260.2,469.4 C261.3,469.7 262.4,470.3 263.5,471.0 C264.6,471.7 265.6,472.8 266.7,473.5 C267.8,474.2 269.2,474.6 270.0,475.5 C270.8,476.4 270.6,478.2 271.5,479.2 C272.4,480.2 274.2,480.9 275.6,481.7 C277.0,482.4 278.3,483.1 279.7,483.7 C281.1,484.2 282.4,484.5 283.8,485.0 C285.2,485.5 286.5,486.1 287.9,486.6 C289.3,487.1 290.6,487.8 292.0,488.2 C293.4,488.6 294.5,489.0 296.1,489.1 C297.7,489.2 299.8,489.1 301.8,489.0 C303.8,488.9 305.6,488.8 308.0,488.7 C310.4,488.6 313.3,488.6 315.9,488.6 C318.5,488.6 321.5,488.4 323.5,488.9 C325.5,489.4 326.6,490.9 327.9,491.6 C329.2,492.3 329.6,492.9 331.2,493.3 C332.8,493.7 334.6,493.7 337.7,493.8 C340.8,493.9 347.5,494.0 349.5,494.0" stroke="#5f68a6" stroke-opacity="0.80" stroke-width="4.5" fill="none" stroke-linecap="butt" stroke-linejoin="round"/>
<path d="M227.9,487.9 C228.5,487.8 230.1,487.7 231.3,487.7 C232.6,487.7 234.2,488.0 235.4,487.9 C236.7,487.7 237.7,487.4 238.8,486.9 C239.8,486.4 241.0,485.6 242.1,484.9 C243.2,484.1 244.3,483.2 245.3,482.4 C246.4,481.5 247.5,480.4 248.6,479.9 C249.6,479.3 250.8,479.1 251.8,478.9 C252.9,478.6 254.2,478.8 255.2,478.6 C256.1,478.3 256.7,478.1 257.6,477.2 C258.4,476.2 259.2,474.1 260.1,473.0 C260.9,471.8 262.1,470.2 262.9,470.1 C263.8,469.9 264.6,471.1 265.4,472.2 C266.1,473.2 266.7,475.1 267.4,476.2 C268.2,477.4 269.0,479.5 269.8,479.1 C270.5,478.6 271.2,475.4 271.9,473.8 C272.5,472.1 273.2,470.2 273.9,469.2 C274.5,468.3 275.2,468.0 275.9,468.1 C276.5,468.1 277.3,468.8 277.9,469.7 C278.6,470.5 279.3,471.7 279.9,473.0 C280.6,474.3 281.4,475.9 282.1,477.5 C282.7,479.0 283.4,480.7 284.1,482.4 C284.7,484.0 285.4,485.9 286.1,487.2 C286.9,488.6 287.6,489.6 288.6,490.2 C289.5,490.9 290.8,491.1 291.9,491.4 C293.0,491.6 294.2,492.0 295.1,492.0 C296.1,491.9 296.7,491.8 297.6,491.2 C298.4,490.5 299.2,488.8 300.1,488.1 C300.9,487.3 301.5,486.9 302.4,486.5 C303.4,486.1 304.8,485.9 305.8,485.7 C306.7,485.5 307.2,485.5 308.1,485.2 C309.1,485.0 310.4,484.3 311.4,484.4 C312.3,484.4 313.0,484.9 313.9,485.7 C314.7,486.4 315.5,487.9 316.4,489.0 C317.2,490.0 317.9,491.4 318.8,492.2 C319.6,492.9 320.7,493.5 321.6,493.5 C322.6,493.5 323.4,492.6 324.4,492.2 C325.5,491.7 326.8,490.7 327.8,490.6 C328.7,490.4 329.4,490.9 330.2,491.4 C331.1,491.8 331.8,492.6 332.6,493.5 C333.5,494.3 334.3,495.3 335.1,496.2 C336.0,497.2 336.7,498.5 337.6,499.2 C338.4,499.8 339.2,500.3 340.1,500.4 C340.9,500.4 341.7,499.8 342.6,499.5 C343.4,499.2 344.2,498.5 345.1,498.6 C345.9,498.6 346.7,499.2 347.6,499.8 C348.4,500.3 349.3,501.3 350.2,501.8 C351.2,502.2 352.4,502.3 353.4,502.5 C354.5,502.6 355.4,502.5 356.6,502.6 C357.7,502.6 359.8,502.6 360.4,502.6" stroke="#1b4c93" stroke-width="1.8" fill="none" stroke-linejoin="round"/>
<text transform="translate(221.35,549.95) scale(0.88,1.10)" text-anchor="end" class="m">CORR.</text>
<rect x="227.15" y="541.45" width="133.40" height="11.30" fill="#fff" stroke="#cfcfcf" stroke-width="1"/>
<path d="M293.85,541.45V552.75" stroke="#cfcfcf" stroke-width="1"/>
<linearGradient id="gb01" gradientUnits="userSpaceOnUse" x1="227.15" x2="360.55" y1="0" y2="0"><stop offset="0.000" stop-color="#35288c"/><stop offset="0.060" stop-color="#2a3cbc"/><stop offset="0.135" stop-color="#1262da"/><stop offset="0.210" stop-color="#0a88d2"/><stop offset="0.285" stop-color="#0ea8c8"/><stop offset="0.360" stop-color="#20b8a0"/><stop offset="0.440" stop-color="#80c080"/><stop offset="0.500" stop-color="#b8bc68"/><stop offset="0.550" stop-color="#eeb048"/><stop offset="0.600" stop-color="#f8b438"/><stop offset="0.670" stop-color="#f8c836"/><stop offset="0.725" stop-color="#f0e030"/><stop offset="0.780" stop-color="#f0ea28"/><stop offset="1.000" stop-color="#f5f520"/></linearGradient>
<rect x="227.65" y="543.60" width="82.21" height="6.60" fill="url(#gb01)"/>
<text transform="translate(227.15,561.85) scale(0.88,1.10)" text-anchor="middle" class="m">≤ 0</text>
<text transform="translate(293.85,561.85) scale(0.88,1.10)" text-anchor="middle" class="m">0.5</text>
<text transform="translate(360.55,561.85) scale(0.88,1.10)" text-anchor="middle" class="m">1.0</text>
<text transform="translate(474.00,449.15) scale(0.88,1.10)" text-anchor="middle" class="m">UPPER GUT PAIN</text>
<text transform="translate(389.60,487.35) rotate(-90) scale(0.88,1.10)" text-anchor="middle" class="m yl">NORMALIZED</text>
<text transform="translate(398.20,487.35) rotate(-90) scale(0.88,1.10)" text-anchor="middle" class="m yl">VALUES</text>
<path d="M407.60,455.4V519.6M433.30,455.4V519.6M459.00,455.4V519.6M484.70,455.4V519.6M510.40,455.4V519.6M536.10,455.4V519.6M407.60,464.35H540.40M407.60,487.35H540.40M407.60,510.35H540.40" stroke="#bcbcbc" stroke-width="1" fill="none"/>
<text transform="translate(407.60,528.05) scale(0.88,1.10)" text-anchor="middle" class="m">0:00</text>
<text transform="translate(433.30,528.05) scale(0.88,1.10)" text-anchor="middle" class="m">1:00</text>
<text transform="translate(459.00,528.05) scale(0.88,1.10)" text-anchor="middle" class="m">2:00</text>
<text transform="translate(484.70,528.05) scale(0.88,1.10)" text-anchor="middle" class="m">3:00</text>
<text transform="translate(510.40,528.05) scale(0.88,1.10)" text-anchor="middle" class="m">4:00</text>
<text transform="translate(536.10,528.05) scale(0.88,1.10)" text-anchor="middle" class="m">5:00</text>
<path d="M420.90,453.8V520.6" stroke="#19aedb" stroke-width="1.9"/>
<circle cx="420.90" cy="453.6" r="2.8" fill="#19aedb"/>
<path d="M407.5,500.9 C409.0,500.9 414.5,501.2 416.5,500.9 C418.5,500.6 418.4,500.4 419.3,499.3 C420.2,498.2 421.1,496.3 421.8,494.4 C422.6,492.5 423.1,490.0 423.8,487.8 C424.5,485.6 425.1,483.3 425.9,481.3 C426.6,479.3 427.4,477.4 428.3,476.0 C429.2,474.6 430.2,473.4 431.2,472.7 C432.2,471.9 433.1,471.7 434.5,471.5 C435.9,471.3 437.9,471.4 439.4,471.5 C440.9,471.6 442.3,471.6 443.5,471.9 C444.7,472.2 445.6,472.7 446.7,473.1 C447.8,473.5 449.2,473.7 450.0,474.3 C450.8,474.9 450.6,476.0 451.5,476.8 C452.4,477.6 454.2,478.5 455.6,479.2 C457.0,479.9 458.3,480.4 459.7,480.9 C461.1,481.4 462.4,481.6 463.8,482.1 C465.2,482.6 466.5,483.4 467.9,484.1 C469.3,484.9 470.6,485.9 472.0,486.6 C473.4,487.4 474.7,488.0 476.1,488.6 C477.5,489.2 478.7,489.9 480.2,490.3 C481.7,490.8 483.3,491.0 485.0,491.3 C486.7,491.6 488.7,491.8 490.5,492.4 C492.3,493.0 494.1,494.1 495.9,494.7 C497.7,495.3 499.6,495.7 501.4,495.8 C503.2,495.9 505.2,495.8 506.8,495.5 C508.4,495.2 509.8,494.6 511.2,494.0 C512.6,493.4 514.0,492.4 515.5,491.9 C517.0,491.4 518.4,491.1 519.9,491.1 C521.4,491.1 523.0,491.5 524.3,491.9 C525.6,492.3 526.7,492.8 527.5,493.3 C528.3,493.8 528.9,494.6 529.2,494.9" stroke="#5f68a6" stroke-opacity="0.80" stroke-width="4.5" fill="none" stroke-linecap="butt" stroke-linejoin="round"/>
<path d="M407.8,487.9 C408.4,487.8 409.9,487.7 411.2,487.7 C412.4,487.7 414.1,488.0 415.3,487.9 C416.5,487.7 417.5,487.4 418.6,486.9 C419.7,486.4 420.8,485.6 421.9,484.9 C423.0,484.1 424.1,483.2 425.2,482.4 C426.3,481.5 427.3,480.4 428.4,479.9 C429.5,479.3 430.6,479.1 431.7,478.9 C432.8,478.6 434.0,478.8 435.0,478.6 C435.9,478.3 436.6,478.1 437.4,477.2 C438.2,476.2 439.0,474.1 439.9,473.0 C440.8,471.8 441.9,470.2 442.8,470.1 C443.7,469.9 444.4,471.1 445.2,472.2 C445.9,473.2 446.6,475.1 447.3,476.2 C448.0,477.4 448.9,479.5 449.6,479.1 C450.3,478.6 451.0,475.4 451.7,473.8 C452.4,472.1 453.0,470.2 453.7,469.2 C454.4,468.3 455.0,468.0 455.7,468.1 C456.4,468.1 457.1,468.8 457.8,469.7 C458.5,470.5 459.1,471.7 459.8,473.0 C460.5,474.3 461.2,475.9 461.9,477.5 C462.6,479.0 463.2,480.7 463.9,482.4 C464.6,484.0 465.2,485.9 466.0,487.2 C466.7,488.6 467.4,489.6 468.4,490.2 C469.3,490.9 470.6,491.1 471.7,491.4 C472.8,491.6 474.1,492.0 475.0,492.0 C475.9,491.9 476.6,491.8 477.4,491.2 C478.2,490.5 479.1,488.8 479.9,488.1 C480.7,487.3 481.3,486.9 482.3,486.5 C483.2,486.1 484.6,485.9 485.6,485.7 C486.5,485.5 487.1,485.5 488.0,485.2 C488.9,485.0 490.2,484.3 491.2,484.4 C492.1,484.4 492.9,484.9 493.7,485.7 C494.5,486.4 495.4,487.9 496.2,489.0 C497.0,490.0 497.7,491.4 498.6,492.2 C499.5,492.9 500.6,493.5 501.5,493.5 C502.4,493.5 503.3,492.6 504.3,492.2 C505.3,491.7 506.6,490.7 507.6,490.6 C508.6,490.4 509.3,490.9 510.1,491.4 C510.9,491.8 511.7,492.6 512.5,493.5 C513.3,494.3 514.2,495.3 515.0,496.2 C515.8,497.2 516.6,498.5 517.4,499.2 C518.2,499.8 519.1,500.3 519.9,500.4 C520.7,500.4 521.6,499.8 522.4,499.5 C523.2,499.2 524.1,498.5 524.9,498.6 C525.7,498.6 526.5,499.2 527.4,499.8 C528.3,500.3 529.1,501.3 530.1,501.8 C531.1,502.2 532.2,502.3 533.3,502.5 C534.3,502.6 535.2,502.5 536.4,502.6 C537.6,502.6 539.6,502.6 540.3,502.6" stroke="#1b4c93" stroke-width="1.8" fill="none" stroke-linejoin="round"/>
<text transform="translate(401.20,549.95) scale(0.88,1.10)" text-anchor="end" class="m">CORR.</text>
<rect x="407.00" y="541.45" width="133.40" height="11.30" fill="#fff" stroke="#cfcfcf" stroke-width="1"/>
<path d="M473.70,541.45V552.75" stroke="#cfcfcf" stroke-width="1"/>
<linearGradient id="gb02" gradientUnits="userSpaceOnUse" x1="407.00" x2="540.40" y1="0" y2="0"><stop offset="0.000" stop-color="#35288c"/><stop offset="0.060" stop-color="#2a3cbc"/><stop offset="0.135" stop-color="#1262da"/><stop offset="0.210" stop-color="#0a88d2"/><stop offset="0.285" stop-color="#0ea8c8"/><stop offset="0.360" stop-color="#20b8a0"/><stop offset="0.440" stop-color="#80c080"/><stop offset="0.500" stop-color="#b8bc68"/><stop offset="0.550" stop-color="#eeb048"/><stop offset="0.600" stop-color="#f8b438"/><stop offset="0.670" stop-color="#f8c836"/><stop offset="0.725" stop-color="#f0e030"/><stop offset="0.780" stop-color="#f0ea28"/><stop offset="1.000" stop-color="#f5f520"/></linearGradient>
<rect x="407.50" y="543.60" width="87.54" height="6.60" fill="url(#gb02)"/>
<text transform="translate(407.00,561.85) scale(0.88,1.10)" text-anchor="middle" class="m">≤ 0</text>
<text transform="translate(473.70,561.85) scale(0.88,1.10)" text-anchor="middle" class="m">0.5</text>
<text transform="translate(540.40,561.85) scale(0.88,1.10)" text-anchor="middle" class="m">1.0</text>
<text transform="translate(114.30,596.30) scale(0.88,1.10)" text-anchor="middle" class="m">HEARTBURN</text>
<text transform="translate(29.90,634.50) rotate(-90) scale(0.88,1.10)" text-anchor="middle" class="m yl">NORMALIZED</text>
<text transform="translate(38.50,634.50) rotate(-90) scale(0.88,1.10)" text-anchor="middle" class="m yl">VALUES</text>
<path d="M47.90,602.5V666.8M73.60,602.5V666.8M99.30,602.5V666.8M125.00,602.5V666.8M150.70,602.5V666.8M176.40,602.5V666.8M47.90,611.50H180.70M47.90,634.50H180.70M47.90,657.50H180.70" stroke="#bcbcbc" stroke-width="1" fill="none"/>
<text transform="translate(47.90,675.20) scale(0.88,1.10)" text-anchor="middle" class="m">0:00</text>
<text transform="translate(73.60,675.20) scale(0.88,1.10)" text-anchor="middle" class="m">1:00</text>
<text transform="translate(99.30,675.20) scale(0.88,1.10)" text-anchor="middle" class="m">2:00</text>
<text transform="translate(125.00,675.20) scale(0.88,1.10)" text-anchor="middle" class="m">3:00</text>
<text transform="translate(150.70,675.20) scale(0.88,1.10)" text-anchor="middle" class="m">4:00</text>
<text transform="translate(176.40,675.20) scale(0.88,1.10)" text-anchor="middle" class="m">5:00</text>
<path d="M61.20,600.9V667.7" stroke="#19aedb" stroke-width="1.9"/>
<circle cx="61.20" cy="600.7" r="2.8" fill="#19aedb"/>
<path d="M47.9,650.2 C49.6,650.2 56.0,650.5 58.1,650.2 C60.2,649.9 59.8,649.4 60.5,648.3 C61.2,647.2 61.9,645.5 62.6,643.8 C63.3,642.1 63.9,639.9 64.6,638.1 C65.3,636.3 66.0,634.8 66.7,633.2 C67.5,631.6 68.2,630.0 69.1,628.7 C70.0,627.4 71.0,626.1 72.0,625.4 C73.0,624.6 74.1,624.4 75.3,624.2 C76.5,624.0 76.4,624.2 79.4,624.2 C82.4,624.2 89.5,624.2 93.2,624.3 C96.9,624.4 99.4,624.4 101.4,624.6 C103.5,624.8 104.3,624.9 105.5,625.4 C106.7,625.9 107.6,626.8 108.7,627.5 C109.8,628.2 110.8,629.0 112.0,629.5 C113.2,630.0 114.5,630.5 116.1,630.7 C117.7,630.9 120.3,630.9 121.8,630.9 C123.3,630.9 123.7,630.8 125.0,630.9 C126.3,631.0 128.0,630.8 129.4,631.2 C130.8,631.6 132.2,632.5 133.7,633.2 C135.1,633.9 136.6,635.0 138.1,635.6 C139.6,636.2 141.1,636.3 142.5,637.0 C143.9,637.7 145.4,638.8 146.8,639.7 C148.2,640.6 149.8,641.7 151.2,642.5 C152.6,643.3 154.1,643.9 155.5,644.6 C156.9,645.3 158.4,646.1 159.9,646.8 C161.4,647.5 162.8,648.4 164.3,649.0 C165.9,649.6 168.4,650.3 169.2,650.6" stroke="#5f68a6" stroke-opacity="0.80" stroke-width="4.5" fill="none" stroke-linecap="butt" stroke-linejoin="round"/>
<path d="M48.1,635.0 C48.7,635.0 50.2,634.8 51.5,634.8 C52.8,634.8 54.4,635.1 55.6,635.0 C56.8,634.9 57.8,634.5 58.9,634.0 C60.0,633.5 61.1,632.8 62.2,632.0 C63.3,631.2 64.4,630.3 65.5,629.5 C66.6,628.7 67.6,627.6 68.7,627.0 C69.8,626.4 70.9,626.2 72.0,626.0 C73.1,625.8 74.3,626.0 75.3,625.7 C76.2,625.4 76.9,625.2 77.7,624.3 C78.5,623.4 79.3,621.3 80.2,620.1 C81.1,618.9 82.2,617.3 83.1,617.2 C84.0,617.1 84.8,618.3 85.5,619.3 C86.2,620.3 86.9,622.2 87.6,623.4 C88.3,624.5 89.2,626.6 89.9,626.2 C90.6,625.8 91.3,622.5 92.0,620.9 C92.7,619.3 93.3,617.3 94.0,616.4 C94.7,615.5 95.3,615.1 96.0,615.2 C96.7,615.3 97.4,616.0 98.1,616.8 C98.8,617.6 99.4,618.8 100.1,620.1 C100.8,621.4 101.5,623.0 102.2,624.6 C102.9,626.2 103.5,627.9 104.2,629.5 C104.9,631.1 105.5,633.1 106.3,634.4 C107.0,635.7 107.7,636.7 108.7,637.4 C109.6,638.1 110.9,638.2 112.0,638.5 C113.1,638.8 114.4,639.1 115.3,639.1 C116.3,639.1 116.9,638.9 117.7,638.3 C118.5,637.6 119.4,636.0 120.2,635.2 C121.0,634.4 121.6,634.0 122.6,633.6 C123.5,633.2 125.0,633.0 125.9,632.8 C126.9,632.6 127.4,632.6 128.3,632.4 C129.2,632.2 130.6,631.4 131.5,631.5 C132.4,631.6 133.2,632.0 134.0,632.8 C134.8,633.6 135.7,635.0 136.5,636.1 C137.3,637.2 138.0,638.5 138.9,639.3 C139.8,640.0 140.9,640.6 141.8,640.6 C142.8,640.6 143.6,639.8 144.6,639.3 C145.6,638.8 146.9,637.8 147.9,637.7 C148.9,637.6 149.6,638.0 150.4,638.5 C151.2,639.0 152.0,639.8 152.8,640.6 C153.6,641.4 154.5,642.5 155.3,643.4 C156.1,644.3 156.9,645.6 157.7,646.3 C158.5,647.0 159.4,647.5 160.2,647.5 C161.0,647.5 161.9,646.9 162.7,646.6 C163.5,646.3 164.4,645.7 165.2,645.7 C166.0,645.8 166.8,646.4 167.7,646.9 C168.6,647.4 169.4,648.4 170.4,648.9 C171.4,649.4 172.5,649.5 173.6,649.6 C174.7,649.7 175.5,649.7 176.7,649.7 C177.9,649.7 179.9,649.7 180.6,649.7" stroke="#1b4c93" stroke-width="1.8" fill="none" stroke-linejoin="round"/>
<text transform="translate(41.50,697.10) scale(0.88,1.10)" text-anchor="end" class="m">CORR.</text>
<rect x="47.30" y="688.60" width="133.40" height="11.30" fill="#fff" stroke="#cfcfcf" stroke-width="1"/>
<path d="M114.00,688.60V699.90" stroke="#cfcfcf" stroke-width="1"/>
<linearGradient id="gb10" gradientUnits="userSpaceOnUse" x1="47.30" x2="180.70" y1="0" y2="0"><stop offset="0.000" stop-color="#35288c"/><stop offset="0.060" stop-color="#2a3cbc"/><stop offset="0.135" stop-color="#1262da"/><stop offset="0.210" stop-color="#0a88d2"/><stop offset="0.285" stop-color="#0ea8c8"/><stop offset="0.360" stop-color="#20b8a0"/><stop offset="0.440" stop-color="#80c080"/><stop offset="0.500" stop-color="#b8bc68"/><stop offset="0.550" stop-color="#eeb048"/><stop offset="0.600" stop-color="#f8b438"/><stop offset="0.670" stop-color="#f8c836"/><stop offset="0.725" stop-color="#f0e030"/><stop offset="0.780" stop-color="#f0ea28"/><stop offset="1.000" stop-color="#f5f520"/></linearGradient>
<rect x="47.80" y="690.75" width="92.88" height="6.60" fill="url(#gb10)"/>
<text transform="translate(47.30,709.00) scale(0.88,1.10)" text-anchor="middle" class="m">≤ 0</text>
<text transform="translate(114.00,709.00) scale(0.88,1.10)" text-anchor="middle" class="m">0.5</text>
<text transform="translate(180.70,709.00) scale(0.88,1.10)" text-anchor="middle" class="m">1.0</text>
<text transform="translate(294.15,596.30) scale(0.88,1.10)" text-anchor="middle" class="m">STOMACH BURN</text>
<text transform="translate(209.75,634.50) rotate(-90) scale(0.88,1.10)" text-anchor="middle" class="m yl">NORMALIZED</text>
<text transform="translate(218.35,634.50) rotate(-90) scale(0.88,1.10)" text-anchor="middle" class="m yl">VALUES</text>
<path d="M227.75,602.5V666.8M253.45,602.5V666.8M279.15,602.5V666.8M304.85,602.5V666.8M330.55,602.5V666.8M356.25,602.5V666.8M227.75,611.50H360.55M227.75,634.50H360.55M227.75,657.50H360.55" stroke="#bcbcbc" stroke-width="1" fill="none"/>
<text transform="translate(227.75,675.20) scale(0.88,1.10)" text-anchor="middle" class="m">0:00</text>
<text transform="translate(253.45,675.20) scale(0.88,1.10)" text-anchor="middle" class="m">1:00</text>
<text transform="translate(279.15,675.20) scale(0.88,1.10)" text-anchor="middle" class="m">2:00</text>
<text transform="translate(304.85,675.20) scale(0.88,1.10)" text-anchor="middle" class="m">3:00</text>
<text transform="translate(330.55,675.20) scale(0.88,1.10)" text-anchor="middle" class="m">4:00</text>
<text transform="translate(356.25,675.20) scale(0.88,1.10)" text-anchor="middle" class="m">5:00</text>
<path d="M241.05,600.9V667.7" stroke="#19aedb" stroke-width="1.9"/>
<circle cx="241.05" cy="600.7" r="2.8" fill="#19aedb"/>
<path d="M227.6,650.8 C229.3,650.8 235.9,651.1 238.1,650.8 C240.2,650.5 239.8,650.1 240.5,649.1 C241.2,648.1 241.9,646.3 242.6,644.6 C243.3,642.9 243.9,640.5 244.6,638.9 C245.3,637.3 245.9,635.9 246.7,634.8 C247.5,633.7 248.5,633.1 249.5,632.4 C250.5,631.7 251.7,631.3 252.8,630.7 C253.9,630.1 255.0,629.6 256.1,628.7 C257.2,627.8 258.3,626.4 259.4,625.4 C260.5,624.4 261.5,623.5 262.6,623.0 C263.7,622.5 264.4,622.6 265.9,622.6 C267.4,622.6 269.6,622.9 271.5,623.0 C273.4,623.1 275.8,623.0 277.3,623.4 C278.8,623.8 279.4,624.5 280.5,625.4 C281.6,626.3 282.7,627.8 283.8,628.7 C284.9,629.7 285.9,630.6 287.1,631.1 C288.3,631.6 289.1,631.8 291.2,632.0 C293.2,632.2 297.1,632.2 299.4,632.2 C301.7,632.2 303.0,632.0 305.0,632.0 C307.0,632.0 309.3,631.9 311.5,631.9 C313.7,631.9 316.1,632.1 318.0,632.3 C319.9,632.5 321.2,632.3 322.7,632.9 C324.2,633.5 325.4,634.6 326.8,635.6 C328.2,636.6 329.5,638.2 330.9,639.1 C332.3,640.0 333.6,640.5 335.0,641.3 C336.4,642.1 337.7,642.7 339.1,643.8 C340.5,644.9 342.1,646.7 343.2,647.7 C344.3,648.7 345.0,649.3 346.0,649.8 C347.0,650.3 348.7,650.7 349.2,650.9" stroke="#5f68a6" stroke-opacity="0.80" stroke-width="4.5" fill="none" stroke-linecap="butt" stroke-linejoin="round"/>
<path d="M227.9,635.0 C228.5,635.0 230.1,634.8 231.3,634.8 C232.6,634.8 234.2,635.1 235.4,635.0 C236.7,634.9 237.7,634.5 238.8,634.0 C239.8,633.5 241.0,632.8 242.1,632.0 C243.2,631.2 244.3,630.3 245.3,629.5 C246.4,628.7 247.5,627.6 248.6,627.0 C249.6,626.4 250.8,626.2 251.8,626.0 C252.9,625.8 254.2,626.0 255.2,625.7 C256.1,625.4 256.7,625.2 257.6,624.3 C258.4,623.4 259.2,621.3 260.1,620.1 C260.9,618.9 262.1,617.3 262.9,617.2 C263.8,617.1 264.6,618.3 265.4,619.3 C266.1,620.3 266.7,622.2 267.4,623.4 C268.2,624.5 269.0,626.6 269.8,626.2 C270.5,625.8 271.2,622.5 271.9,620.9 C272.5,619.3 273.2,617.3 273.9,616.4 C274.5,615.5 275.2,615.1 275.9,615.2 C276.5,615.3 277.3,616.0 277.9,616.8 C278.6,617.6 279.3,618.8 279.9,620.1 C280.6,621.4 281.4,623.0 282.1,624.6 C282.7,626.2 283.4,627.9 284.1,629.5 C284.7,631.1 285.4,633.1 286.1,634.4 C286.9,635.7 287.6,636.7 288.6,637.4 C289.5,638.1 290.8,638.2 291.9,638.5 C293.0,638.8 294.2,639.1 295.1,639.1 C296.1,639.1 296.7,638.9 297.6,638.3 C298.4,637.6 299.2,636.0 300.1,635.2 C300.9,634.4 301.5,634.0 302.4,633.6 C303.4,633.2 304.8,633.0 305.8,632.8 C306.7,632.6 307.2,632.6 308.1,632.4 C309.1,632.2 310.4,631.4 311.4,631.5 C312.3,631.6 313.0,632.0 313.9,632.8 C314.7,633.6 315.5,635.0 316.4,636.1 C317.2,637.2 317.9,638.5 318.8,639.3 C319.6,640.0 320.7,640.6 321.6,640.6 C322.6,640.6 323.4,639.8 324.4,639.3 C325.5,638.8 326.8,637.8 327.8,637.7 C328.7,637.6 329.4,638.0 330.2,638.5 C331.1,639.0 331.8,639.8 332.6,640.6 C333.5,641.4 334.3,642.5 335.1,643.4 C336.0,644.3 336.7,645.6 337.6,646.3 C338.4,647.0 339.2,647.5 340.1,647.5 C340.9,647.5 341.7,646.9 342.6,646.6 C343.4,646.3 344.2,645.7 345.1,645.7 C345.9,645.8 346.7,646.4 347.6,646.9 C348.4,647.4 349.3,648.4 350.2,648.9 C351.2,649.4 352.4,649.5 353.4,649.6 C354.5,649.7 355.4,649.7 356.6,649.7 C357.7,649.7 359.8,649.7 360.4,649.7" stroke="#1b4c93" stroke-width="1.8" fill="none" stroke-linejoin="round"/>
<text transform="translate(221.35,697.10) scale(0.88,1.10)" text-anchor="end" class="m">CORR.</text>
<rect x="227.15" y="688.60" width="133.40" height="11.30" fill="#fff" stroke="#cfcfcf" stroke-width="1"/>
<path d="M293.85,688.60V699.90" stroke="#cfcfcf" stroke-width="1"/>
<linearGradient id="gb11" gradientUnits="userSpaceOnUse" x1="227.15" x2="360.55" y1="0" y2="0"><stop offset="0.000" stop-color="#35288c"/><stop offset="0.060" stop-color="#2a3cbc"/><stop offset="0.135" stop-color="#1262da"/><stop offset="0.210" stop-color="#0a88d2"/><stop offset="0.285" stop-color="#0ea8c8"/><stop offset="0.360" stop-color="#20b8a0"/><stop offset="0.440" stop-color="#80c080"/><stop offset="0.500" stop-color="#b8bc68"/><stop offset="0.550" stop-color="#eeb048"/><stop offset="0.600" stop-color="#f8b438"/><stop offset="0.670" stop-color="#f8c836"/><stop offset="0.725" stop-color="#f0e030"/><stop offset="0.780" stop-color="#f0ea28"/><stop offset="1.000" stop-color="#f5f520"/></linearGradient>
<rect x="227.65" y="690.75" width="93.55" height="6.60" fill="url(#gb11)"/>
<text transform="translate(227.15,709.00) scale(0.88,1.10)" text-anchor="middle" class="m">≤ 0</text>
<text transform="translate(293.85,709.00) scale(0.88,1.10)" text-anchor="middle" class="m">0.5</text>
<text transform="translate(360.55,709.00) scale(0.88,1.10)" text-anchor="middle" class="m">1.0</text>
<text transform="translate(474.00,596.30) scale(0.88,1.10)" text-anchor="middle" class="m">EXCESSIVELY FULL</text>
<text transform="translate(389.60,634.50) rotate(-90) scale(0.88,1.10)" text-anchor="middle" class="m yl">NORMALIZED</text>
<text transform="translate(398.20,634.50) rotate(-90) scale(0.88,1.10)" text-anchor="middle" class="m yl">VALUES</text>
<path d="M407.60,602.5V666.8M433.30,602.5V666.8M459.00,602.5V666.8M484.70,602.5V666.8M510.40,602.5V666.8M536.10,602.5V666.8M407.60,611.50H540.40M407.60,634.50H540.40M407.60,657.50H540.40" stroke="#bcbcbc" stroke-width="1" fill="none"/>
<text transform="translate(407.60,675.20) scale(0.88,1.10)" text-anchor="middle" class="m">0:00</text>
<text transform="translate(433.30,675.20) scale(0.88,1.10)" text-anchor="middle" class="m">1:00</text>
<text transform="translate(459.00,675.20) scale(0.88,1.10)" text-anchor="middle" class="m">2:00</text>
<text transform="translate(484.70,675.20) scale(0.88,1.10)" text-anchor="middle" class="m">3:00</text>
<text transform="translate(510.40,675.20) scale(0.88,1.10)" text-anchor="middle" class="m">4:00</text>
<text transform="translate(536.10,675.20) scale(0.88,1.10)" text-anchor="middle" class="m">5:00</text>
<path d="M420.90,600.9V667.7" stroke="#19aedb" stroke-width="1.9"/>
<circle cx="420.90" cy="600.7" r="2.8" fill="#19aedb"/>
<path d="M432.4,618.5 C432.9,618.1 434.3,616.9 435.3,616.4 C436.3,615.9 437.7,615.6 438.6,615.6 C439.6,615.6 440.2,615.9 441.0,616.4 C441.8,616.9 442.7,617.8 443.5,618.5 C444.3,619.2 445.1,619.9 445.9,620.9 C446.7,621.9 447.4,623.2 448.3,624.3 C449.2,625.4 450.3,626.6 451.5,627.5 C452.7,628.4 454.2,628.9 455.6,629.5 C457.0,630.1 458.3,630.8 459.7,631.1 C461.1,631.4 462.4,631.5 463.8,631.5 C465.2,631.5 466.5,631.2 467.9,631.4 C469.3,631.5 470.6,632.0 472.0,632.4 C473.4,632.8 474.7,633.5 476.1,634.0 C477.5,634.5 478.8,635.1 480.2,635.6 C481.6,636.1 483.1,636.3 484.6,636.8 C486.1,637.3 487.9,638.0 489.4,638.6 C490.9,639.2 492.1,639.9 493.7,640.3 C495.3,640.7 497.6,640.5 499.2,640.8 C500.8,641.1 502.1,641.4 503.5,641.9 C504.9,642.4 506.4,642.9 507.9,643.5 C509.4,644.1 510.8,645.0 512.3,645.7 C513.8,646.4 515.1,647.3 516.6,647.9 C518.1,648.5 519.5,649.0 521.0,649.5 C522.5,650.0 524.1,650.7 525.4,651.2 C526.7,651.7 528.1,652.1 528.6,652.3" stroke="#5f68a6" stroke-opacity="0.80" stroke-width="4.5" fill="none" stroke-linecap="butt" stroke-linejoin="round"/>
<path d="M407.8,635.0 C408.4,635.0 409.9,634.8 411.2,634.8 C412.4,634.8 414.1,635.1 415.3,635.0 C416.5,634.9 417.5,634.5 418.6,634.0 C419.7,633.5 420.8,632.8 421.9,632.0 C423.0,631.2 424.1,630.3 425.2,629.5 C426.3,628.7 427.3,627.6 428.4,627.0 C429.5,626.4 430.6,626.2 431.7,626.0 C432.8,625.8 434.0,626.0 435.0,625.7 C435.9,625.4 436.6,625.2 437.4,624.3 C438.2,623.4 439.0,621.3 439.9,620.1 C440.8,618.9 441.9,617.3 442.8,617.2 C443.7,617.1 444.4,618.3 445.2,619.3 C445.9,620.3 446.6,622.2 447.3,623.4 C448.0,624.5 448.9,626.6 449.6,626.2 C450.3,625.8 451.0,622.5 451.7,620.9 C452.4,619.3 453.0,617.3 453.7,616.4 C454.4,615.5 455.0,615.1 455.7,615.2 C456.4,615.3 457.1,616.0 457.8,616.8 C458.5,617.6 459.1,618.8 459.8,620.1 C460.5,621.4 461.2,623.0 461.9,624.6 C462.6,626.2 463.2,627.9 463.9,629.5 C464.6,631.1 465.2,633.1 466.0,634.4 C466.7,635.7 467.4,636.7 468.4,637.4 C469.3,638.1 470.6,638.2 471.7,638.5 C472.8,638.8 474.1,639.1 475.0,639.1 C475.9,639.1 476.6,638.9 477.4,638.3 C478.2,637.6 479.1,636.0 479.9,635.2 C480.7,634.4 481.3,634.0 482.3,633.6 C483.2,633.2 484.6,633.0 485.6,632.8 C486.5,632.6 487.1,632.6 488.0,632.4 C488.9,632.2 490.2,631.4 491.2,631.5 C492.1,631.6 492.9,632.0 493.7,632.8 C494.5,633.6 495.4,635.0 496.2,636.1 C497.0,637.2 497.7,638.5 498.6,639.3 C499.5,640.0 500.6,640.6 501.5,640.6 C502.4,640.6 503.3,639.8 504.3,639.3 C505.3,638.8 506.6,637.8 507.6,637.7 C508.6,637.6 509.3,638.0 510.1,638.5 C510.9,639.0 511.7,639.8 512.5,640.6 C513.3,641.4 514.2,642.5 515.0,643.4 C515.8,644.3 516.6,645.6 517.4,646.3 C518.2,647.0 519.1,647.5 519.9,647.5 C520.7,647.5 521.6,646.9 522.4,646.6 C523.2,646.3 524.1,645.7 524.9,645.7 C525.7,645.8 526.5,646.4 527.4,646.9 C528.3,647.4 529.1,648.4 530.1,648.9 C531.1,649.4 532.2,649.5 533.3,649.6 C534.3,649.7 535.2,649.7 536.4,649.7 C537.6,649.7 539.6,649.7 540.3,649.7" stroke="#1b4c93" stroke-width="1.8" fill="none" stroke-linejoin="round"/>
<text transform="translate(401.20,697.10) scale(0.88,1.10)" text-anchor="end" class="m">CORR.</text>
<rect x="407.00" y="688.60" width="133.40" height="11.30" fill="#fff" stroke="#cfcfcf" stroke-width="1"/>
<path d="M473.70,688.60V699.90" stroke="#cfcfcf" stroke-width="1"/>
<linearGradient id="gb12" gradientUnits="userSpaceOnUse" x1="407.00" x2="540.40" y1="0" y2="0"><stop offset="0.000" stop-color="#35288c"/><stop offset="0.060" stop-color="#2a3cbc"/><stop offset="0.135" stop-color="#1262da"/><stop offset="0.210" stop-color="#0a88d2"/><stop offset="0.285" stop-color="#0ea8c8"/><stop offset="0.360" stop-color="#20b8a0"/><stop offset="0.440" stop-color="#80c080"/><stop offset="0.500" stop-color="#b8bc68"/><stop offset="0.550" stop-color="#eeb048"/><stop offset="0.600" stop-color="#f8b438"/><stop offset="0.670" stop-color="#f8c836"/><stop offset="0.725" stop-color="#f0e030"/><stop offset="0.780" stop-color="#f0ea28"/><stop offset="1.000" stop-color="#f5f520"/></linearGradient>
<rect x="407.50" y="690.75" width="102.22" height="6.60" fill="url(#gb12)"/>
<text transform="translate(407.00,709.00) scale(0.88,1.10)" text-anchor="middle" class="m">≤ 0</text>
<text transform="translate(473.70,709.00) scale(0.88,1.10)" text-anchor="middle" class="m">0.5</text>
<text transform="translate(540.40,709.00) scale(0.88,1.10)" text-anchor="middle" class="m">1.0</text>
</svg></body></html>
